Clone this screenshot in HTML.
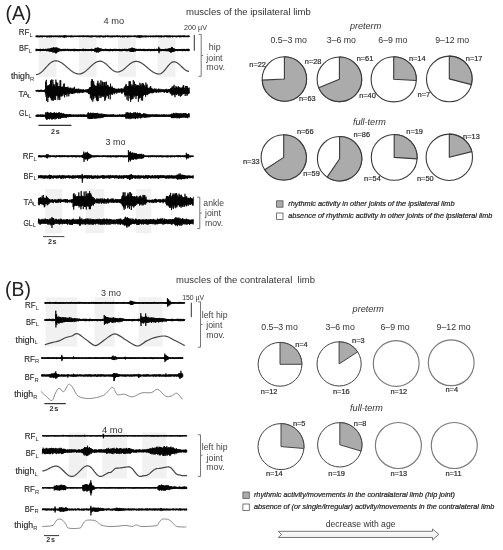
<!DOCTYPE html>
<html><head><meta charset="utf-8"><title>Figure</title>
<style>
html,body{margin:0;padding:0;background:#fff;}
body{width:503px;height:550px;overflow:hidden;}
svg{display:block;filter:blur(0.35px);}
svg text{font-family:'Liberation Sans', Arial, sans-serif;}
</style></head>
<body>
<svg width="503" height="550" viewBox="0 0 503 550">
<rect width="503" height="550" fill="#fff"/>
<text x="5.6" y="19.6" font-size="19.4" fill="#222">(A)</text>
<text x="186" y="15.2" font-size="9.55" fill="#333">muscles of the ipsilateral limb</text>
<rect x="38.7" y="37.5" width="17.6" height="39.3" fill="#f1f1f1"/>
<rect x="79" y="37.5" width="17.5" height="39.3" fill="#f1f1f1"/>
<rect x="118" y="37.5" width="17.8" height="39.3" fill="#f1f1f1"/>
<rect x="157.7" y="37.5" width="17.8" height="39.3" fill="#f1f1f1"/>
<text x="103.5" y="24" font-size="9.3" fill="#333">4 mo</text>
<text x="184" y="30.1" font-size="7.2" fill="#333">200 µV</text>
<line x1="194.3" y1="34.9" x2="194.3" y2="50.8" stroke="#333" stroke-width="1"/>
<path d="M198.6 34.4H201.2V76.3H198.6M201.2 55.5h2" fill="none" stroke="#777" stroke-width="1"/>
<text x="208.8" y="50.4" font-size="8.9" fill="#444">hip</text>
<text x="206.3" y="60.6" font-size="8.9" fill="#444">joint</text>
<text x="206.3" y="70.1" font-size="8.9" fill="#444">mov.</text>
<text x="18.7" y="35.2" font-size="9.3" fill="#2a2a2a" stroke="#2a2a2a" stroke-width="0.15" textLength="10.6" lengthAdjust="spacingAndGlyphs">RF</text>
<text x="29.5" y="36.8" font-size="5.8" fill="#2a2a2a">L</text>
<text x="18.9" y="51" font-size="9.3" fill="#2a2a2a" stroke="#2a2a2a" stroke-width="0.15" textLength="9.6" lengthAdjust="spacingAndGlyphs">BF</text>
<text x="28.7" y="52.6" font-size="5.8" fill="#2a2a2a">L</text>
<text x="10.9" y="78.9" font-size="8.9" fill="#2a2a2a" stroke="#2a2a2a" stroke-width="0.15" textLength="18.9" lengthAdjust="spacingAndGlyphs">thigh</text>
<text x="30" y="80.5" font-size="5.8" fill="#2a2a2a">R</text>
<text x="18.4" y="96.6" font-size="9.3" fill="#2a2a2a" stroke="#2a2a2a" stroke-width="0.15" textLength="10.0" lengthAdjust="spacingAndGlyphs">TA</text>
<text x="27.8" y="98.2" font-size="5.8" fill="#2a2a2a">L</text>
<text x="19.1" y="116.1" font-size="9.3" fill="#2a2a2a" stroke="#2a2a2a" stroke-width="0.15" textLength="9.2" lengthAdjust="spacingAndGlyphs">GL</text>
<text x="28.5" y="117.7" font-size="5.8" fill="#2a2a2a">L</text>
<path d="M35.8 37 36.1 35.5 36.4 37.2 36.7 35.8 37 37.1 37.3 35.7 37.6 37.2 37.9 35.6 38.2 37 38.5 35.8 38.8 37.3 39.1 35.7 39.4 37.2 39.7 35.8 40 37.1 40.3 35.6 40.6 37 40.9 35.5 41.2 37.3 41.5 35.8 41.8 37 42.1 35.7 42.4 37.3 42.7 35.7 43 37 43.3 35.7 43.6 37 43.9 35.8 44.2 37.1 44.5 35.7 44.8 37 45.1 35.8 45.4 37 45.7 35.7 46 37 46.3 35.8 46.6 37.3 46.9 35.7 47.2 37.2 47.5 35.8 47.8 37.3 48.1 35.5 48.4 37 48.7 35.8 49 37.2 49.3 35.6 49.6 37.3 49.9 35.7 50.2 37.3 50.5 35.6 50.8 37 51.1 35.7 51.4 37.3 51.7 35.5 52 37.1 52.3 35.7 52.6 37 52.9 35.8 53.2 37.2 53.5 35.7 53.8 37 54.1 35.7 54.4 37.2 54.7 35.6 55 37 55.3 35.7 55.6 37.1 55.9 35.6 56.2 37.1 56.5 35.7 56.8 37.1 57.1 35.8 57.4 37 57.7 35.6 58 37.3 58.3 35.7 58.6 37.1 58.9 35.8 59.2 37.1 59.5 35.5 59.8 37.2 60.1 35.7 60.4 37.3 60.7 35.8 61 37.1 61.3 35.5 61.6 37.1 61.9 35.7 62.2 37 62.5 35.7 62.8 37.3 63.1 35.8 63.4 37.3 63.7 35.4 64 37.5 64.3 35.3 64.6 37.6 64.9 35.4 65.2 37.4 65.5 35.5 65.8 37.1 66.1 35.3 66.4 37.3 66.7 35.7 67 37.1 67.3 35.7 67.6 37 67.9 35.8 68.2 37.1 68.5 35.7 68.8 37.1 69.1 35.7 69.4 37 69.7 35.8 70 37 70.3 35.7 70.6 37.3 70.9 35.6 71.2 37.2 71.5 35.6 71.8 37 72.1 35.5 72.4 37.2 72.7 35.8 73 37 73.3 35.8 73.6 37.2 73.9 35.8 74.2 37 74.5 35.7 74.8 37 75.1 35.8 75.4 37 75.7 35.7 76 37 76.3 35.8 76.6 37.2 76.9 35.7 77.2 37 77.5 35.7 77.8 37 78.1 35.7 78.4 37.1 78.7 35.8 79 37 79.3 35.5 79.6 37.1 79.9 35.8 80.2 37.1 80.5 35.6 80.8 37 81.1 35.8 81.4 37 81.7 35.6 82 37 82.3 35.6 82.6 37.2 82.9 35.7 83.2 37 83.5 35.5 83.8 37.2 84.1 35.7 84.4 37 84.7 35.6 85 37.1 85.3 35.7 85.6 37 85.9 35.6 86.2 37 86.5 35.8 86.8 37.3 87.1 35.5 87.4 37 87.7 35.5 88 37 88.3 35.5 88.6 37.2 88.9 35.7 89.2 37 89.5 35.8 89.8 37.3 90.1 35.8 90.4 37.2 90.7 35.5 91 37.1 91.3 35.8 91.6 37.3 91.9 35.5 92.2 37.2 92.5 35.7 92.8 37.1 93.1 35.8 93.4 37 93.7 35.6 94 37.1 94.3 35.8 94.6 37 94.9 35.6 95.2 37 95.5 35.7 95.8 37 96.1 35.5 96.4 37.3 96.7 35.8 97 37 97.3 35.8 97.6 37.3 97.9 35.6 98.2 37 98.5 35.8 98.8 37.2 99.1 35.5 99.4 37.3 99.7 35.8 100 37.3 100.3 35.6 100.6 37.1 100.9 35.5 101.2 37 101.5 35.6 101.8 37 102.1 35.8 102.4 37.3 102.7 35.8 103 37.2 103.3 35.7 103.6 37.3 103.9 35.8 104.2 37 104.5 35.8 104.8 37.3 105.1 35.7 105.4 37.3 105.7 35.5 106 37 106.3 35.7 106.6 37 106.9 35.8 107.2 37 107.5 35.5 107.8 37.2 108.1 35.5 108.4 37 108.7 35.7 109 37.2 109.3 35.7 109.6 37.1 109.9 35.8 110.2 37 110.5 35.8 110.8 37.3 111.1 35.7 111.4 37.3 111.7 35.7 112 37 112.3 35.6 112.6 37.3 112.9 35.8 113.2 37.2 113.5 35.8 113.8 37 114.1 35.5 114.4 37 114.7 35.8 115 37.3 115.3 35.7 115.6 37 115.9 35.8 116.2 37 116.5 35.6 116.8 37 117.1 35.5 117.4 37.1 117.7 35.5 118 37.3 118.3 35.8 118.6 37 118.9 35.7 119.2 37 119.5 35.6 119.8 37 120.1 35.8 120.4 37.3 120.7 35.8 121 37.1 121.3 35.7 121.6 37 121.9 35.8 122.2 37.3 122.5 35.5 122.8 37.3 123.1 35.8 123.4 37 123.7 35.7 124 37.3 124.3 35.7 124.6 37.2 124.9 35.6 125.2 37 125.5 35.7 125.8 37 126.1 35.8 126.4 37 126.7 35.8 127 37.3 127.3 35.7 127.6 37.2 127.9 35.6 128.2 37.3 128.5 35.7 128.8 37 129.1 35.8 129.4 37 129.7 35.5 130 37.3 130.3 35.8 130.6 37 130.9 35.7 131.2 37.1 131.5 35.7 131.8 37 132.1 35.8 132.4 37 132.7 35.8 133 37.1 133.3 35.8 133.6 37 133.9 35.6 134.2 37 134.5 35.6 134.8 37.1 135.1 35.5 135.4 37 135.7 35.7 136 37.2 136.3 35.8 136.6 37.3 136.9 35.8 137.2 37.2 137.5 35.4 137.8 37.4 138.1 35.6 138.4 37.2 138.7 35.4 139 37.7 139.3 35.4 139.6 37.8 139.9 35.5 140.2 37.7 140.5 35.6 140.8 37.2 141.1 35.3 141.4 37.3 141.7 35.5 142 37.3 142.3 35.6 142.6 37.2 142.9 35.8 143.2 37.1 143.5 35.8 143.8 37.2 144.1 35.6 144.4 37 144.7 35.8 145 37.3 145.3 35.6 145.6 37.1 145.9 35.7 146.2 37.3 146.5 35.7 146.8 37.1 147.1 35.8 147.4 37 147.7 35.8 148 37.2 148.3 35.7 148.6 37.1 148.9 35.8 149.2 37 149.5 35.8 149.8 37 150.1 35.8 150.4 37.3 150.7 35.7 151 37.1 151.3 35.7 151.6 37 151.9 35.8 152.2 37.1 152.5 35.7 152.8 37.2 153.1 35.7 153.4 37.2 153.7 35.6 154 37 154.3 35.7 154.6 37.1 154.9 35.8 155.2 37.1 155.5 35.7 155.8 37.3 156.1 35.5 156.4 37 156.7 35.6 157 37 157.3 35.8 157.6 37.1 157.9 35.5 158.2 37 158.5 35.6 158.8 37.3 159.1 35.8 159.4 37.2 159.7 35.5 160 37 160.3 35.6 160.6 37.2 160.9 35.7 161.2 37.3 161.5 35.5 161.8 37.3 162.1 35.7 162.4 37 162.7 35.8 163 37 163.3 35.7 163.6 37.2 163.9 35.8 164.2 37.2 164.5 35.6 164.8 37 165.1 35.7 165.4 37 165.7 35.6 166 37 166.3 35.5 166.6 37.2 166.9 35.6 167.2 37 167.5 35.5 167.8 37.3 168.1 35.8 168.4 37.2 168.7 35.5 169 37.2 169.3 35.6 169.6 37.1 169.9 35.5 170.2 37.3 170.5 35.7 170.8 37.2 171.1 35.7 171.4 37 171.7 35.8 172 37 172.3 35.5 172.6 37.3 172.9 35.8 173.2 37.1 173.5 35.7 173.8 37 174.1 35.8 174.4 37 174.7 35.6 175 37 175.3 35.8 175.6 37.1 175.9 35.8 176.2 37.2 176.5 35.7 176.8 37.3 177.1 35.8 177.4 37 177.7 35.7 178 37 178.3 35.7 178.6 37 178.9 35.6 179.2 37.2 179.5 35.6 179.8 37.3 180.1 35.7 180.4 37.1 180.7 35.5 181 37.2 181.3 35.7 181.6 37.1 181.9 35.8 182.2 37 182.5 35.6 182.8 37 183.1 35.6 183.4 37.1 183.7 35.5 184 37.2 184.3 35.5 184.6 37 184.9 35.7 185.2 37.1 185.5 35.8 185.8 37.1 186.1 35.8 186.4 37.1 186.7 35.8 187 37.1 187.3 35.7 187.6 37 187.9 35.7 188.2 37.2 188.5 35.6 188.8 37.1 189.1 35.6 189.4 37" fill="none" stroke="#000" stroke-width="0.8" stroke-linejoin="round"/>
<path d="M35.8 51.2 36.1 48.8 36.4 50.8 36.7 49.2 37 51.1 37.3 48.9 37.6 51 37.9 49.1 38.2 51 38.5 49 38.8 51 39.1 49.2 39.4 50.9 39.7 49.1 40 51.1 40.3 48.8 40.6 51.2 40.9 49 41.2 50.9 41.5 49.1 41.8 50.8 42.1 49.2 42.4 50.9 42.7 49.1 43 50.9 43.3 48.8 43.6 51 43.9 49 44.2 50.9 44.5 49.2 44.8 50.9 45.1 49.2 45.4 51 45.7 48.8 46 51 46.3 49.2 46.6 51.2 46.9 48.9 47.2 51.1 47.5 48.8 47.8 51.1 48.1 48.9 48.4 50.9 48.7 48.6 49 51.5 49.3 48.9 49.6 51.5 49.9 48.5 50.2 51.4 50.5 48.5 50.8 51.6 51.1 48 51.4 51.7 51.7 47.9 52 51.7 52.3 47.7 52.6 52.4 52.9 48 53.2 52.2 53.5 47.3 53.8 52.5 54.1 47.7 54.4 52.1 54.7 47.7 55 52.8 55.3 47.7 55.6 53.3 55.9 47.5 56.2 53.3 56.5 47.7 56.8 53 57.1 47.5 57.4 52.1 57.7 48 58 52 58.3 48.2 58.6 51.4 58.9 48.7 59.2 51.3 59.5 48.6 59.8 51.1 60.1 49.2 60.4 51.1 60.7 48.9 61 51.2 61.3 49.2 61.6 51.1 61.9 49.2 62.2 51 62.5 49.1 62.8 50.9 63.1 48.8 63.4 50.8 63.7 49 64 51.2 64.3 49.1 64.6 50.8 64.9 48.8 65.2 50.9 65.5 48.9 65.8 50.8 66.1 49.1 66.4 50.8 66.7 49 67 50.8 67.3 48.8 67.6 50.8 67.9 48.9 68.2 50.8 68.5 49.1 68.8 51.1 69.1 49.2 69.4 50.8 69.7 48.9 70 50.9 70.3 49.2 70.6 51.2 70.9 49.2 71.2 50.8 71.5 49.1 71.8 51 72.1 48.9 72.4 50.8 72.7 49.1 73 50.8 73.3 49.1 73.6 51.1 73.9 48.9 74.2 51.2 74.5 48.9 74.8 51.2 75.1 48.9 75.4 50.9 75.7 49.1 76 51 76.3 49.1 76.6 50.8 76.9 49.1 77.2 51.2 77.5 49.2 77.8 51 78.1 49.1 78.4 51 78.7 49.2 79 51.2 79.3 49.1 79.6 51 79.9 49.1 80.2 50.8 80.5 49 80.8 50.8 81.1 49.2 81.4 50.8 81.7 49.2 82 50.8 82.3 49 82.6 51 82.9 48.8 83.2 51.2 83.5 48.8 83.8 50.9 84.1 49.1 84.4 50.9 84.7 49 85 51 85.3 48.9 85.6 51.1 85.9 49.1 86.2 50.9 86.5 49 86.8 50.8 87.1 49.2 87.4 50.9 87.7 49.2 88 51.1 88.3 49.1 88.6 50.8 88.9 49.2 89.2 50.9 89.5 49.1 89.8 51 90.1 49.1 90.4 50.9 90.7 49 91 50.8 91.3 48.8 91.6 51.2 91.9 48.9 92.2 50.9 92.5 49 92.8 51 93.1 49.2 93.4 50.9 93.7 49 94 51 94.3 48.9 94.6 51.6 94.9 48.6 95.2 51.6 95.5 47.9 95.8 51.9 96.1 48.3 96.4 52.6 96.7 48 97 51.9 97.3 47.4 97.6 52.1 97.9 47.8 98.2 52.7 98.5 47.7 98.8 51.7 99.1 48.1 99.4 51.7 99.7 48.3 100 51.4 100.3 48.4 100.6 51.2 100.9 48.8 101.2 51.1 101.5 48.7 101.8 50.8 102.1 48.9 102.4 50.8 102.7 49 103 50.9 103.3 49.1 103.6 51.1 103.9 49.1 104.2 50.8 104.5 49.2 104.8 50.8 105.1 48.9 105.4 51 105.7 48.8 106 51.1 106.3 49.2 106.6 51 106.9 48.9 107.2 51.1 107.5 49 107.8 50.9 108.1 49.1 108.4 51.1 108.7 49.1 109 51 109.3 49.1 109.6 51.2 109.9 48.9 110.2 51.2 110.5 48.9 110.8 50.9 111.1 49.1 111.4 51 111.7 49.1 112 50.9 112.3 49 112.6 51.2 112.9 49 113.2 51.1 113.5 49.2 113.8 50.9 114.1 48.8 114.4 50.8 114.7 49.1 115 50.8 115.3 49.2 115.6 51.2 115.9 48.8 116.2 51 116.5 49.2 116.8 50.9 117.1 49.1 117.4 51 117.7 49 118 50.9 118.3 49 118.6 50.8 118.9 49 119.2 51.2 119.5 48.9 119.8 50.8 120.1 49 120.4 51.1 120.7 49.1 121 51.2 121.3 49.1 121.6 51.1 121.9 49.1 122.2 51.2 122.5 48.9 122.8 51 123.1 49.2 123.4 50.9 123.7 49.2 124 51 124.3 48.8 124.6 50.8 124.9 49 125.2 50.9 125.5 49.1 125.8 51.1 126.1 48.8 126.4 51.1 126.7 49.1 127 51.2 127.3 49.1 127.6 51.1 127.9 49 128.2 51.1 128.5 48.8 128.8 50.9 129.1 48.8 129.4 51.1 129.7 48.6 130 51.8 130.3 48.4 130.6 51.3 130.9 48.4 131.2 51.9 131.5 47.8 131.8 52 132.1 47.8 132.4 51.6 132.7 47.8 133 51.9 133.3 48.3 133.6 51.9 133.9 48.2 134.2 51.2 134.5 48.4 134.8 51.5 135.1 48.9 135.4 51.4 135.7 48.8 136 50.9 136.3 48.8 136.6 50.8 136.9 49 137.2 50.9 137.5 49.1 137.8 51 138.1 49.1 138.4 50.8 138.7 48.8 139 50.8 139.3 49.2 139.6 51 139.9 48.9 140.2 51 140.5 48.9 140.8 50.9 141.1 49 141.4 50.9 141.7 49.1 142 51 142.3 49.2 142.6 50.8 142.9 48.9 143.2 50.8 143.5 48.9 143.8 51.1 144.1 49.1 144.4 51 144.7 48.9 145 51.2 145.3 49.2 145.6 50.8 145.9 49.1 146.2 50.9 146.5 49.1 146.8 50.8 147.1 49 147.4 51.2 147.7 49.1 148 51 148.3 49.1 148.6 50.9 148.9 48.8 149.2 50.9 149.5 49 149.8 50.9 150.1 49 150.4 51.2 150.7 49.2 151 51.1 151.3 49.1 151.6 51 151.9 48.9 152.2 51 152.5 49.1 152.8 51.1 153.1 49.2 153.4 51 153.7 49.1 154 51 154.3 48.8 154.6 51.1 154.9 49 155.2 50.9 155.5 49.1 155.8 50.9 156.1 49.1 156.4 50.9 156.7 48.8 157 50.8 157.3 48.9 157.6 50.9 157.9 49.1 158.2 50.9 158.5 49.2 158.8 50.9 158.8 46.8 159 53.2 159.2 48.1 159.3 51.6 159.4 50.9 159.7 49.1 160 51.2 160.3 48.8 160.6 50.9 160.9 49 161.2 51.2 161.5 49.1 161.8 50.8 162.1 49.1 162.4 50.8 162.7 49 163 50.9 163.3 49.1 163.6 51.1 163.9 49.1 164.2 51.1 164.5 49 164.8 50.9 165.1 48.9 165.4 50.9 165.7 48.8 166 51.2 166.3 49 166.6 51.1 166.9 48.8 167.2 51.1 167.5 48.9 167.8 51.2 168.1 48.8 168.4 51.2 168.7 48.5 169 51.2 169.3 48.4 169.6 51.7 169.9 48.4 170.2 51.8 170.5 48.3 170.8 52.7 171.1 47.9 171.4 52.4 171.7 46.9 172 52.1 172.3 47.1 172.6 51.8 172.9 48.3 173.2 51.7 173.5 48.4 173.8 51.9 174.1 48.3 174.4 51.4 174.7 48.9 175 51 175.3 49.1 175.6 51.1 175.9 49.1 176.2 50.9 176.5 49 176.8 50.8 177.1 49.1 177.4 51.2 177.7 49.2 178 50.8 178.3 49.2 178.6 50.9 178.9 49.1 179.2 50.9 179.5 49.1 179.8 50.9 180.1 49.1 180.4 51 180.7 49.1 181 50.9 181.3 48.9 181.6 50.8 181.9 49.2 182.2 51.2 182.5 49.1 182.8 51.1 183.1 49.2 183.4 51 183.7 48.9 184 50.9 184.3 48.9 184.6 51 184.9 49.1 185.2 51.2 185.5 49.1 185.8 50.9 186.1 49 186.4 50.9 186.7 48.9 187 51 187.3 49 187.6 51 187.9 48.8 188.2 51.2 188.5 48.9 188.8 50.9 189.1 49.1 189.4 51" fill="none" stroke="#000" stroke-width="0.8" stroke-linejoin="round"/>
<path d="M36.0 74.6 36.5 74.6 37.0 74.5 37.5 74.4 38.0 74.2 38.5 74.0 39.0 73.8 39.5 73.5 40.0 73.2 40.5 72.9 41.0 72.5 41.5 72.1 42.0 71.6 42.5 71.1 43.0 70.7 43.5 70.1 44.0 69.6 44.5 69.1 45.0 68.5 45.5 68.0 46.0 67.4 46.5 66.9 47.0 66.3 47.5 65.8 48.0 65.3 48.5 64.7 49.0 64.2 49.5 63.8 50.0 63.3 50.5 62.9 51.0 62.5 51.5 62.2 52.0 61.9 52.5 61.6 53.0 61.4 53.5 61.2 54.0 61.0 54.5 60.9 55.0 60.8 55.5 60.8 56.0 60.8 56.5 60.9 57.0 60.9 57.5 61.0 58.0 61.2 58.5 61.3 59.0 61.5 59.5 61.7 60.0 62.0 60.5 62.2 61.0 62.5 61.5 62.8 62.0 63.1 62.5 63.5 63.0 63.8 63.5 64.2 64.0 64.6 64.5 65.0 65.0 65.4 65.5 65.9 66.0 66.3 66.5 66.7 67.0 67.2 67.5 67.6 68.0 68.1 68.5 68.5 69.0 68.9 69.5 69.4 70.0 69.8 70.5 70.2 71.0 70.6 71.5 71.0 72.0 71.3 72.5 71.7 73.0 72.0 73.5 72.3 74.0 72.6 74.5 72.8 75.0 73.1 75.5 73.3 76.0 73.5 76.5 73.6 77.0 73.8 77.5 73.9 78.0 73.9 78.5 74.0 79.0 74.0 79.5 74.0 80.0 73.9 80.5 73.8 81.0 73.7 81.5 73.6 82.0 73.4 82.5 73.1 83.0 72.9 83.5 72.6 84.0 72.3 84.5 72.0 85.0 71.6 85.5 71.2 86.0 70.8 86.5 70.4 87.0 69.9 87.5 69.5 88.0 69.0 88.5 68.6 89.0 68.1 89.5 67.6 90.0 67.1 90.5 66.6 91.0 66.2 91.5 65.7 92.0 65.3 92.5 64.8 93.0 64.4 93.5 64.0 94.0 63.6 94.5 63.2 95.0 62.9 95.5 62.6 96.0 62.3 96.5 62.1 97.0 61.8 97.5 61.6 98.0 61.5 98.5 61.4 99.0 61.3 99.5 61.2 100.0 61.2 100.5 61.2 101.0 61.3 101.5 61.4 102.0 61.5 102.5 61.7 103.0 62.0 103.5 62.2 104.0 62.5 104.5 62.9 105.0 63.2 105.5 63.6 106.0 64.0 106.5 64.5 107.0 64.9 107.5 65.4 108.0 65.9 108.5 66.4 109.0 66.8 109.5 67.3 110.0 67.8 110.5 68.3 111.0 68.7 111.5 69.2 112.0 69.6 112.5 70.0 113.0 70.3 113.5 70.7 114.0 71.0 114.5 71.2 115.0 71.5 115.5 71.7 116.0 71.8 116.5 71.9 117.0 72.0 117.5 72.0 118.0 72.0 118.5 71.9 119.0 71.8 119.5 71.7 120.0 71.5 120.5 71.3 121.0 71.1 121.5 70.8 122.0 70.5 122.5 70.2 123.0 69.9 123.5 69.5 124.0 69.1 124.5 68.7 125.0 68.3 125.5 67.8 126.0 67.4 126.5 66.9 127.0 66.5 127.5 66.0 128.0 65.6 128.5 65.1 129.0 64.7 129.5 64.3 130.0 63.9 130.5 63.5 131.0 63.2 131.5 62.9 132.0 62.6 132.5 62.3 133.0 62.1 133.5 61.9 134.0 61.7 134.5 61.6 135.0 61.5 135.5 61.4 136.0 61.4 136.5 61.4 137.0 61.5 137.5 61.5 138.0 61.6 138.5 61.8 139.0 61.9 139.5 62.1 140.0 62.3 140.5 62.6 141.0 62.8 141.5 63.1 142.0 63.4 142.5 63.7 143.0 64.1 143.5 64.4 144.0 64.8 144.5 65.2 145.0 65.6 145.5 66.0 146.0 66.4 146.5 66.8 147.0 67.3 147.5 67.7 148.0 68.1 148.5 68.6 149.0 69.0 149.5 69.4 150.0 69.8 150.5 70.2 151.0 70.6 151.5 71.0 152.0 71.3 152.5 71.7 153.0 72.0 153.5 72.3 154.0 72.6 154.5 72.8 155.0 73.1 155.5 73.3 156.0 73.5 156.5 73.6 157.0 73.8 157.5 73.9 158.0 73.9 158.5 74.0 159.0 74.0 159.5 74.0 160.0 73.9 160.5 73.7 161.0 73.5 161.5 73.2 162.0 72.8 162.5 72.4 163.0 72.0 163.5 71.5 164.0 71.0 164.5 70.4 165.0 69.8 165.5 69.2 166.0 68.5 166.5 67.9 167.0 67.3 167.5 66.6 168.0 66.0 168.5 65.4 169.0 64.8 169.5 64.3 170.0 63.8 170.5 63.4 171.0 63.0 171.5 62.6 172.0 62.3 172.5 62.1 173.0 61.9 173.5 61.8 174.0 61.8 174.5 61.8 175.0 61.9 175.5 62.0 176.0 62.2 176.5 62.4 177.0 62.7 177.5 63.0 178.0 63.4 178.5 63.8 179.0 64.2 179.5 64.6 180.0 65.1 180.5 65.6 181.0 66.1 181.5 66.5 182.0 67.0 182.5 67.5 183.0 68.0 183.5 68.5 184.0 68.9 184.5 69.3 185.0 69.7 185.5 70.1 186.0 70.4 186.5 70.7 187.0 70.9 187.5 71.1 188.0 71.2 188.5 71.3 189.0 71.3" fill="none" stroke="#444" stroke-width="1.2" stroke-linejoin="round"/>
<path d="M35.8 91.3 36.1 90.1 36.4 91.4 36.7 90 37 91.6 37.3 90.3 37.6 91.3 37.9 89.8 38.2 91.4 38.5 90.3 38.8 92.1 39.1 90.1 39.4 91.8 39.7 90.1 40 91.6 40.3 90.3 40.6 91.6 40.9 89.7 41.2 91.5 41.5 89.9 41.8 91.6 42.1 90.3 42.4 91.7 42.7 90 43 91.4 43.3 90.3 43.6 91.9 43.9 90.1 44.2 91.7 44.5 89.7 44.8 91.7 45.1 89.6 45.4 93.6 45.7 81.7 46 96.7 46.3 79.9 46.6 100.9 46.9 86 47.2 95.6 47.5 85.8 47.8 102.1 48.1 85 48.4 97.9 48.7 85.6 49 97 49.3 85.3 49.6 96.1 49.9 84.1 50.2 97.5 50.5 80.6 50.8 98.3 51.1 80.3 51.4 100.3 51.7 79.4 52 98.2 52.3 86.1 52.6 100.3 52.9 79.9 53.2 100.9 53.5 84.3 53.8 98.5 54.1 86 54.4 99.8 54.7 84.4 55 95.7 55.3 86.3 55.6 100 55.9 79.7 56.2 95.3 56.5 82.3 56.8 96.2 57.1 86.2 57.4 95.7 57.7 82.7 58 100.1 58.3 86.3 58.6 97.4 58.9 86.4 59.2 98.3 59.5 85.9 59.8 100.1 60.1 80.2 60.4 96.4 60.7 80.3 61 95.3 61.3 86.8 61.6 96.5 61.9 87 62.2 94.7 62.5 86.5 62.8 96.1 63.1 87.3 63.4 94.2 63.7 83.9 64 94.3 64.3 83.5 64.6 97.3 64.9 87.4 65.2 94.4 65.5 87.1 65.8 94.9 66.1 87 66.4 94.4 66.7 87 67 96.5 67.3 87.6 67.6 93.7 67.9 86.7 68.2 93.3 68.5 88.3 68.8 96.3 69.1 87.8 69.4 93.9 69.7 88.6 70 93.4 70.3 87.8 70.6 92.9 70.9 87.7 71.2 93.9 71.5 88.8 71.8 93.8 72.1 88.4 72.4 93.9 72.7 88.7 73 93.9 73.3 87.7 73.6 92.6 73.9 89.1 74.2 93.5 74.5 86.9 74.8 92.5 75.1 88.8 75.4 93.1 75.7 89.1 76 92.5 76.3 89.1 76.6 92.5 76.9 88.7 77.2 92.4 77.5 89.2 77.8 93.3 78.1 89.4 78.4 92.7 78.7 88.5 79 92.2 79.3 89.5 79.6 93.2 79.9 89.5 80.2 92 80.5 89.4 80.8 92.7 81.1 89.7 81.4 92 81.7 89.6 82 92.9 82.3 89.6 82.6 92.8 82.9 89.8 83.2 91.9 83.5 89.4 83.8 92.7 84.1 89.7 84.4 91.7 84.7 90 85 91.9 85.3 90 85.6 92.2 85.9 89.3 86.2 91.6 86.5 89.9 86.8 92.5 87.1 89.3 87.4 92.8 87.7 89.5 88 92 88.3 89.2 88.6 94.1 88.9 88.6 89.2 93.4 89.5 87.7 89.8 94.2 90.1 87.1 90.4 98.3 90.7 87.1 91 94.7 91.3 81.2 91.6 100.2 91.9 79.2 92.2 96.7 92.5 79.6 92.8 101.6 93.1 85.8 93.4 99.2 93.7 81.3 94 98.3 94.3 84.5 94.6 95.9 94.9 85.5 95.2 95.8 95.5 86.1 95.8 97.6 96.1 85.7 96.4 99.8 96.7 86.1 97 101 97.3 83.1 97.6 101.3 97.9 80.7 98.2 100.9 98.5 84.2 98.8 95.4 99.1 82.7 99.4 95.5 99.7 85.8 100 98.1 100.3 84.6 100.6 96.3 100.9 80.3 101.2 97.6 101.5 85.7 101.8 95.6 102.1 81.4 102.4 96.6 102.7 82.4 103 95.9 103.3 86.1 103.6 96.9 103.9 82.1 104.2 95.4 104.5 82.4 104.8 100.9 105.1 82.2 105.4 99.5 105.7 86.3 106 97.5 106.3 81.6 106.6 95.2 106.9 86 107.2 95.5 107.5 84.9 107.8 96.1 108.1 85.3 108.4 98.6 108.7 86.7 109 94.8 109.3 86.8 109.6 94.6 109.9 87.1 110.2 99.4 110.5 83.7 110.8 94.2 111.1 86.6 111.4 94.3 111.7 87.5 112 94.1 112.3 86.5 112.6 94.7 112.9 87.9 113.2 93.3 113.5 88.2 113.8 93.1 114.1 87.9 114.4 94.2 114.7 88.6 115 92.6 115.3 89.1 115.6 92.6 115.9 88.7 116.2 93.4 116.5 89.2 116.8 93.4 117.1 88.8 117.4 92.4 117.7 89.3 118 92.5 118.3 88.6 118.6 92.4 118.9 88.7 119.2 92.4 119.5 89.4 119.8 92.5 120.1 88.7 120.4 92.1 120.7 89.3 121 92.3 121.3 88.2 121.6 93.6 121.9 89.4 122.2 93.4 122.5 88.6 122.8 92 123.1 89.4 123.4 92 123.7 88.6 124 92.6 124.3 87.2 124.6 95 124.9 86.4 125.2 96.6 125.5 85.4 125.8 95.3 126.1 83.9 126.4 95.6 126.7 85.9 127 99.6 127.3 86 127.6 95.6 127.9 86 128.2 100.9 128.5 85.9 128.8 95.5 129.1 81.3 129.4 95.6 129.7 81.3 130 98.4 130.3 81.4 130.6 101.8 130.9 84.1 131.2 99.7 131.5 86.1 131.8 99.3 132.1 84.7 132.4 98.7 132.7 86.1 133 99 133.3 80.2 133.6 95.4 133.9 85.7 134.2 97.3 134.5 81.7 134.8 95.7 135.1 86.1 135.4 95.7 135.7 84 136 98.9 136.3 85.4 136.6 96 136.9 85.4 137.2 95.9 137.5 85.4 137.8 95.3 138.1 84.9 138.4 101.7 138.7 85.4 139 98.7 139.3 86.2 139.6 98.2 139.9 82.8 140.2 98 140.5 84.9 140.8 96.5 141.1 83.9 141.4 100.4 141.7 86.3 142 95.3 142.3 83 142.6 100.6 142.9 84.9 143.2 96.1 143.5 83.6 143.8 95.1 144.1 86.5 144.4 94.9 144.7 85.2 145 95 145.3 86.9 145.6 96.7 145.9 82.6 146.2 94.5 146.5 85.3 146.8 94.6 147.1 84.4 147.4 95.1 147.7 87.7 148 93.8 148.3 88.1 148.6 94.2 148.9 87.8 149.2 93.3 149.5 88.1 149.8 93.3 150.1 86.8 150.4 92.9 150.7 86.1 151 93.1 151.3 88.3 151.6 92.8 151.9 87.9 152.2 93.4 152.5 89.1 152.8 92.2 153.1 89.1 153.4 92.8 153.7 89.6 154 92.5 154.3 88.4 154.6 92.1 154.9 89.8 155.2 91.8 155.5 89.1 155.8 92.4 156.1 88.5 156.4 92.8 156.7 89.8 157 91.8 157.3 89.8 157.6 91.8 157.9 89.2 158.2 92.8 158.5 88.7 158.8 91.8 159.1 88.8 159.4 91.9 159.7 89.6 160 92.5 160.3 89.8 160.6 91.8 160.9 88.9 161.2 91.8 161.5 89.7 161.8 92.2 162.1 89.3 162.4 91.8 162.7 89.7 163 92 163.3 89.6 163.6 91.8 163.9 89.4 164.2 93 164.5 89.7 164.8 92.1 165.1 89.8 165.4 91.8 165.7 89.3 166 91.7 166.3 88.8 166.6 92.9 166.9 89.9 167.2 93 167.5 89.7 167.8 92.5 168.1 89.1 168.4 91.8 168.7 89.3 169 92.2 169.3 89 169.6 91.8 169.9 89.2 170.2 93.6 170.5 88.3 170.8 93.4 171.1 88.5 171.4 94.3 171.7 87.6 172 95.6 172.3 86.3 172.6 94.7 172.9 87.9 173.2 95.1 173.5 86.5 173.8 93.7 174.1 84.8 174.4 95.2 174.7 88 175 97.2 175.3 88 175.6 93.9 175.9 86 176.2 94.9 176.5 86.9 176.8 95.1 177.1 87.3 177.4 93.9 177.7 87.9 178 93.6 178.3 86.1 178.6 95.8 178.9 87 179.2 95.7 179.5 87.6 179.8 93.8 180.1 87.5 180.4 96.7 180.7 88 181 94.5 181.3 87.8 181.6 95.9 181.9 87.6 182.2 93.9 182.5 87.5 182.8 94.6 183.1 85.7 183.4 94 183.7 85.1 184 93.6 184.3 87.8 184.6 93.6 184.9 88 185.2 96 185.5 86 185.8 93.7 186.1 87.9 186.4 94.1 186.7 86.1 187 95.9 187.3 86.2 187.6 94.5 187.9 88.3 188.2 93.7 188.5 88.3 188.8 93.9 189.1 87.6 189.4 93.1" fill="none" stroke="#000" stroke-width="0.8" stroke-linejoin="round"/>
<path d="M35.8 116.6 36.1 114.9 36.4 116.6 36.7 114.9 37 116.5 37.3 114.8 37.6 116.9 37.9 114.5 38.2 116.8 38.5 114.8 38.8 116.7 39.1 114.8 39.4 116.5 39.7 114.9 40 116.5 40.3 114.5 40.6 116.9 40.9 114.5 41.2 116.9 41.5 114.9 41.8 116.6 42.1 114.7 42.4 116.8 42.7 114.5 43 116.9 43.3 114.9 43.6 116.7 43.9 114.6 44.2 116.7 44.5 114.9 44.8 116.7 45.1 114.9 45.4 117.7 45.7 112.3 46 118.9 46.3 112.9 46.6 119.7 46.9 112.5 47.2 119.6 47.5 111.9 47.8 118.8 48.1 112.7 48.4 119 48.7 112.7 49 118.3 49.3 112.9 49.6 119.4 49.9 113.1 50.2 118.3 50.5 112.4 50.8 118.4 51.1 112.6 51.4 118.7 51.7 112.9 52 119.8 52.3 113.1 52.6 118.6 52.9 113.1 53.2 118.9 53.5 113 53.8 118.5 54.1 112.3 54.4 118.4 54.7 112.6 55 119.5 55.3 113.2 55.6 118.2 55.9 113.1 56.2 119 56.5 112.7 56.8 118.2 57.1 113.2 57.4 118.1 57.7 113.1 58 117.9 58.3 112.8 58.6 119 58.9 112.4 59.2 118.6 59.5 112.5 59.8 117.7 60.1 113.5 60.4 118.8 60.7 113 61 117.9 61.3 112.8 61.6 118.1 61.9 113.1 62.2 117.6 62.5 113.9 62.8 117.7 63.1 114 63.4 117.6 63.7 113.1 64 117.5 64.3 114.1 64.6 117.3 64.9 114.1 65.2 117.8 65.5 114.1 65.8 117.3 66.1 114.3 66.4 117.9 66.7 114.1 67 117.1 67.3 114.4 67.6 117 67.9 114.4 68.2 117.3 68.5 114.5 68.8 116.8 69.1 114.4 69.4 116.8 69.7 114 70 116.7 70.3 114.5 70.6 117 70.9 114.6 71.2 117 71.5 114.7 71.8 116.6 72.1 114.8 72.4 116.5 72.7 114.8 73 116.6 73.3 114.5 73.6 116.9 73.9 114.7 74.2 116.5 74.5 114.8 74.8 116.6 75.1 114.9 75.4 116.6 75.7 114.5 76 116.5 76.3 114.9 76.6 116.9 76.9 114.7 77.2 117 77.5 114.8 77.8 116.9 78.1 114.6 78.4 116.8 78.7 114.6 79 116.7 79.3 114.9 79.6 116.5 79.9 114.5 80.2 116.9 80.5 114.5 80.8 116.6 81.1 114.6 81.4 116.9 81.7 114.7 82 116.9 82.3 114.7 82.6 116.8 82.9 114.6 83.2 116.6 83.5 114.5 83.8 117 84.1 114.9 84.4 117 84.7 114.4 85 116.8 85.3 114.9 85.6 116.9 85.9 114.9 86.2 117 86.5 114.6 86.8 116.5 87.1 114.9 87.4 117.2 87.7 113.3 88 118.8 88.3 112.3 88.6 118 88.9 113.5 89.2 119.1 89.5 113.5 89.8 119 90.1 113.5 90.4 118.9 90.7 112.6 91 119 91.3 113 91.6 119 91.9 113.4 92.2 118.6 92.5 113.3 92.8 119 93.1 112.7 93.4 118.2 93.7 113.1 94 117.8 94.3 113.6 94.6 118.4 94.9 113.2 95.2 118.9 95.5 113 95.8 117.8 96.1 113.4 96.4 118.5 96.7 113.3 97 117.7 97.3 112.9 97.6 118.4 97.9 113.8 98.2 117.9 98.5 113.7 98.8 118.2 99.1 113.8 99.4 117.5 99.7 113.7 100 118.3 100.3 114.1 100.6 117.3 100.9 113.7 101.2 118 101.5 113.9 101.8 117.4 102.1 113.6 102.4 117.6 102.7 114.3 103 117.7 103.3 114.4 103.6 117.1 103.9 113.9 104.2 117.1 104.5 114.1 104.8 116.9 105.1 114.1 105.4 116.8 105.7 114.6 106 116.9 106.3 114.6 106.6 116.8 106.9 114.3 107.2 116.9 107.5 114.9 107.8 116.6 108.1 114.7 108.4 116.7 108.7 114.6 109 116.7 109.3 114.9 109.6 116.6 109.9 114.5 110.2 116.6 110.5 114.6 110.8 117 111.1 114.7 111.4 116.8 111.7 114.7 112 116.6 112.3 114.5 112.6 116.7 112.9 114.5 113.2 116.6 113.5 114.5 113.8 116.8 114.1 114.7 114.4 116.6 114.7 114.9 115 116.8 115.3 114.8 115.6 116.8 115.9 114.9 116.2 116.5 116.5 114.9 116.8 116.9 117.1 114.9 117.4 116.9 117.7 114.8 118 116.7 118.3 114.8 118.6 116.7 118.9 114.9 119.2 116.6 119.5 114.4 119.8 116.5 120.1 114.6 120.4 116.6 120.7 114.8 121 116.5 121.3 114.9 121.6 117 121.9 114.5 122.2 116.9 122.5 114.5 122.8 117 123.1 114.9 123.4 116.7 123.7 114.7 124 116.7 124.3 114.4 124.6 116.8 124.9 114.4 125.2 116.5 125.5 113.9 125.8 118.5 126.1 112.6 126.4 118.6 126.7 112.5 127 118.1 127.3 112.3 127.6 118.2 127.9 112.9 128.2 119 128.5 112.7 128.8 118.1 129.1 113.4 129.4 118.1 129.7 112.9 130 119.2 130.3 112.4 130.6 118.2 130.9 113.2 131.2 118.8 131.5 113.4 131.8 118.2 132.1 113.5 132.4 117.9 132.7 113.1 133 118.6 133.3 112.9 133.6 118.1 133.9 112.3 134.2 118.5 134.5 113.5 134.8 117.9 135.1 112.3 135.4 119.1 135.7 112.4 136 118.4 136.3 113.4 136.6 117.8 136.9 113.5 137.2 117.8 137.5 112.6 137.8 118.7 138.1 113 138.4 117.7 138.7 113.7 139 117.7 139.3 112.8 139.6 117.6 139.9 113.1 140.2 118.1 140.5 113.5 140.8 118.4 141.1 113.9 141.4 117.7 141.7 114 142 117.4 142.3 114.1 142.6 117.4 142.9 114.1 143.2 117.2 143.5 113.3 143.8 117.3 144.1 113.5 144.4 117.6 144.7 113.8 145 117.5 145.3 113.6 145.6 117.7 145.9 113.9 146.2 117.3 146.5 114 146.8 117.4 147.1 114.2 147.4 117.1 147.7 114.5 148 117.4 148.3 114.4 148.6 116.8 148.9 114.6 149.2 117.3 149.5 114.6 149.8 116.8 150.1 114.4 150.4 117.1 150.7 114.7 151 116.7 151.3 114.7 151.6 116.6 151.9 114.5 152.2 116.5 152.5 114.4 152.8 116.5 153.1 114.9 153.4 116.9 153.7 114.5 154 116.6 154.3 114.7 154.6 116.7 154.9 114.6 155.2 116.5 155.5 114.5 155.8 117 156.1 114.6 156.4 116.9 156.7 114.4 157 116.6 157.3 114.5 157.6 116.9 157.9 114.7 158.2 116.5 158.5 114.7 158.8 116.9 159.1 114.8 159.4 116.8 159.7 114.5 160 116.7 160.3 114.9 160.6 116.7 160.9 114.8 161.2 116.9 161.5 114.6 161.8 116.6 162.1 114.5 162.4 116.7 162.7 114.8 163 116.9 163.3 114.5 163.6 116.9 163.9 114.5 164.2 116.8 164.5 114.6 164.8 116.7 165.1 114.7 165.4 117 165.7 114.8 166 116.5 166.3 114.6 166.6 116.7 166.9 114.7 167.2 116.7 167.5 114.8 167.8 116.5 168.1 114.9 168.4 116.8 168.7 114.5 169 116.8 169.3 114.9 169.6 117 169.9 114.5 170.2 116.7 170.5 114.9 170.8 116.9 171.1 113.9 171.4 118 171.7 113.8 172 118.2 172.3 113.8 172.6 117.9 172.9 113.8 173.2 117.8 173.5 112.9 173.8 118.2 174.1 113.1 174.4 117.7 174.7 113.6 175 118 175.3 113.9 175.6 117.8 175.9 112.8 176.2 118.2 176.5 113 176.8 117.6 177.1 113.3 177.4 118.2 177.7 113.3 178 117.8 178.3 113.9 178.6 117.5 178.9 113.1 179.2 118.4 179.5 113.8 179.8 118.1 180.1 113.7 180.4 117.9 180.7 113.2 181 117.6 181.3 113.5 181.6 117.5 181.9 113.7 182.2 117.4 182.5 113.9 182.8 117.5 183.1 113.2 183.4 117.4 183.7 113.4 184 117.3 184.3 113.1 184.6 117.4 184.9 114.1 185.2 117.4 185.5 113.2 185.8 117.8 186.1 113.3 186.4 117.6 186.7 114.1 187 117.4 187.3 113.9 187.6 118.2 187.9 114.1 188.2 117.3 188.5 113.5 188.8 117.2 189.1 113.3 189.4 117.3" fill="none" stroke="#000" stroke-width="0.8" stroke-linejoin="round"/>
<line x1="38.4" y1="125.3" x2="71.4" y2="125.3" stroke="#333" stroke-width="1.3"/>
<text x="51.1" y="133.6" font-size="7.2" fill="#333" font-weight="bold" letter-spacing="0.7">2s</text>
<rect x="45.2" y="189" width="17" height="44.3" fill="#f1f1f1"/>
<rect x="85.8" y="189" width="18.4" height="44.3" fill="#f1f1f1"/>
<rect x="136.1" y="189" width="15.2" height="44.3" fill="#f1f1f1"/>
<text x="105.4" y="144.9" font-size="9.0" fill="#333">3 mo</text>
<text x="22.7" y="159.1" font-size="9.3" fill="#2a2a2a" stroke="#2a2a2a" stroke-width="0.15" textLength="10.6" lengthAdjust="spacingAndGlyphs">RF</text>
<text x="33.5" y="160.7" font-size="5.8" fill="#2a2a2a">L</text>
<text x="23.6" y="178.7" font-size="9.3" fill="#2a2a2a" stroke="#2a2a2a" stroke-width="0.15" textLength="9.6" lengthAdjust="spacingAndGlyphs">BF</text>
<text x="33.4" y="180.3" font-size="5.8" fill="#2a2a2a">L</text>
<text x="23.6" y="204.5" font-size="9.3" fill="#2a2a2a" stroke="#2a2a2a" stroke-width="0.15" textLength="10.0" lengthAdjust="spacingAndGlyphs">TA</text>
<text x="33" y="206.1" font-size="5.8" fill="#2a2a2a">L</text>
<text x="23.4" y="225.5" font-size="9.3" fill="#2a2a2a" stroke="#2a2a2a" stroke-width="0.15" textLength="9.2" lengthAdjust="spacingAndGlyphs">GL</text>
<text x="32.8" y="227.1" font-size="5.8" fill="#2a2a2a">L</text>
<path d="M38.3 157.1 38.6 155.4 38.9 157.2 39.2 155.3 39.5 157.2 39.8 155.3 40.1 156.9 40.4 155.5 40.7 157.3 41 155.5 41.3 157.3 41.6 155.7 41.9 157.1 42.2 155.6 42.5 157.1 42.8 155.5 43.1 156.9 43.4 155.6 43.7 157 44 155.3 44.3 157.2 44.6 155.6 44.9 157.2 45.2 155.7 45.5 157.1 45.8 155.4 46.1 157.6 46.4 154.2 46.7 157.7 47 154.9 47.3 158.4 47.6 154.4 47.9 157.6 48.2 154.4 48.5 157.1 48.8 155.4 49.1 157 49.4 155.3 49.7 157.2 50 155.3 50.3 157.3 50.6 155.6 50.9 157 51.2 155.6 51.5 156.9 51.8 155.7 52.1 157 52.4 155.5 52.7 156.9 53 155.4 53.3 157 53.6 155.6 53.9 157.2 54.2 155.5 54.5 157 54.8 155.5 55.1 157.2 55.4 155.7 55.7 157.3 56 155.7 56.3 157.2 56.6 155.3 56.9 156.9 57.2 155.4 57.5 157 57.8 155.5 58.1 156.9 58.4 155.7 58.7 157 59 155.3 59.3 157 59.6 155.4 59.9 157.3 60.2 155.3 60.5 157 60.8 155.6 61.1 157.1 61.4 155.4 61.7 156.9 62 155.4 62.3 157.2 62.6 155.3 62.9 156.9 63.2 155.3 63.5 156.9 63.8 155.6 64.1 157.1 64.4 155.3 64.7 157 65 155.3 65.3 157.1 65.6 155.6 65.9 157 66.2 155.6 66.5 156.9 66.8 155.7 67.1 157.2 67.4 155.3 67.7 157 68 155.7 68.3 157.3 68.6 155.5 68.9 157 69.2 155.6 69.5 157.1 69.8 155.4 70.1 157 70.4 155.6 70.7 156.9 71 155.3 71.3 156.9 71.6 155.5 71.9 157.2 72.2 155.7 72.5 157.2 72.8 155.3 73.1 157.1 73.4 155.4 73.7 156.9 74 155.6 74.3 157 74.6 155.3 74.9 157 75.2 155.6 75.5 157.3 75.8 155.3 76.1 157.3 76.4 155.6 76.7 157.1 77 155.4 77.3 157.1 77.6 155.6 77.9 157 78.2 155.7 78.5 157 78.8 155.3 79.1 157.3 79.4 155.5 79.7 157.1 80 155.6 80.3 156.9 80.6 155.6 80.9 157.2 81.2 155.3 81.5 157 81.8 155.3 82.1 157.5 82.4 155 82.7 157.8 83 154.5 83.3 157.9 83.6 154.2 83.8 151.6 84 161.9 84.2 153.5 84.3 159.1 84.2 154.1 84.5 159.1 84.8 153.4 85.1 158.7 85.4 152.5 85.7 159.6 86 152.9 86.3 159.1 86.6 152.7 86.9 159.2 87.2 152.8 87.3 151.8 87.5 160.8 87.7 153.6 87.8 158.6 87.8 152.8 88.1 159.3 88.4 153.2 88.7 158.5 89 153.8 89.3 158.7 89.6 153.9 89.9 158 90.2 154.3 90.5 158.2 90.8 154.8 91.1 157.9 91.4 154.9 91.7 157.2 92 155.5 92.3 157 92.6 155.4 92.9 157.3 93.2 155.5 93.5 157.2 93.8 155.4 94.1 157.2 94.4 155.6 94.7 157.2 95 155.5 95.3 157.1 95.6 155.6 95.9 157.1 96.2 155.4 96.5 157.1 96.8 155.4 97.1 156.9 97.4 155.6 97.7 157 98 155.5 98.3 157 98.6 155.4 98.9 157.1 99.2 155.7 99.5 157.1 99.8 155.6 100.1 156.9 100.4 155.7 100.7 157 101 155.6 101.3 157 101.6 155.7 101.9 157.1 102.2 155.6 102.5 157.1 102.8 155.5 103.1 157 103.4 155.3 103.7 156.9 104 155.6 104.3 157 104.6 155.6 104.9 156.9 105.2 155.4 105.5 157 105.8 155.7 106.1 157.1 106.4 155.7 106.7 157.1 107 155.6 107.3 157.1 107.6 155.3 107.9 157.2 108.2 155.6 108.5 157.2 108.8 155.5 109.1 157 109.4 155.7 109.7 157.1 110 155.5 110.3 157.3 110.6 155.3 110.9 157.1 111.2 155.6 111.5 157.3 111.8 155.7 112.1 156.9 112.4 155.5 112.7 157.1 113 155.7 113.3 157.1 113.6 155.3 113.9 157 114.2 155.6 114.5 157 114.8 155.6 115.1 157.3 115.4 155.6 115.7 157.3 116 155.3 116.3 157.1 116.6 155.6 116.9 157.3 117.2 155.5 117.5 157 117.8 155.6 118.1 157.3 118.4 155.5 118.7 157 119 155.5 119.3 156.9 119.6 155.5 119.9 157 120.2 155.6 120.5 157.2 120.8 155.4 121.1 156.9 121.4 155.5 121.7 157 122 155.3 122.3 157.2 122.6 155.6 122.9 157 123.2 155.6 123.5 157.3 123.8 155.6 124.1 157.1 124.4 155.5 124.7 157.1 125 155.5 125.3 157.2 125.6 155.7 125.9 157.2 126.2 155.6 126.5 157.1 126.8 155.6 127.1 157 127.4 155.5 127.7 157.1 128 155.6 128.3 157.2 128.4 150 128.6 162.1 128.8 152.5 128.9 159.2 128.9 158.4 129.2 153.4 129.5 159.6 129.8 152 130.1 160.5 130.3 151.3 130.5 161.3 130.7 153.3 130.8 158.8 130.7 159 131 152.5 131.3 159.4 131.6 153 131.9 159.9 132.2 152.9 132.5 159.3 132.8 152.4 133.1 159.1 133.4 153.5 133.7 159.9 134 153.8 134.3 158.8 134.6 152.9 134.9 158.6 135.2 153 135.5 159.3 135.8 153.8 136.1 158.6 136.4 153.3 136.7 159.5 137 154.2 137.3 158.7 137.6 153.9 137.9 158.6 138.2 154.2 138.5 158.2 138.8 154 139.1 158.9 139.4 154.5 139.7 158.1 140 153.8 140.3 158.7 140.6 154.1 140.9 157.9 141.2 154.1 141.5 158.8 141.8 153.8 142.1 158.3 142.4 154.9 142.7 158.4 143 154.9 143.3 158.1 143.6 154.2 143.9 157.3 144.2 155.7 144.5 157 144.8 155.3 145.1 157 145.4 155.5 145.7 157 146 155.6 146.3 157.1 146.6 155.7 146.9 156.9 147.2 155.6 147.5 156.9 147.8 155.7 148.1 157.1 148.4 155.4 148.7 157.3 149 155.7 149.3 157 149.6 155.6 149.9 157.1 150.2 155.5 150.5 157.3 150.8 155.6 151.1 156.9 151.4 155.4 151.7 157 152 155.5 152.3 157.1 152.6 155.3 152.9 157.1 153.2 155.5 153.5 157 153.8 155.5 154.1 157 154.4 155.4 154.7 157.1 155 155.7 155.3 157 155.6 155.6 155.9 157.2 156.2 155.6 156.5 157.2 156.8 155.5 157.1 156.9 157.4 155.4 157.7 156.9 158 155.7 158.3 157.1 158.6 155.6 158.9 157.3 159.2 155.5 159.5 157 159.8 155.4 160.1 156.9 160.4 155.4 160.7 156.9 161 155.6 161.3 157.3 161.6 155.4 161.9 157 162.2 155.7 162.5 157.3 162.8 155.5 163.1 157.2 163.4 155.7 163.7 157.1 164 155.6 164.3 157 164.6 155.6 164.9 157.1 165.2 155.6 165.5 157 165.8 155.7 166.1 157.2 166.4 155.5 166.7 157.2 167 155.6 167.3 157.3 167.6 155.5 167.9 157.1 168.2 155.5 168.5 157.2 168.8 155.6 169.1 156.9 169.4 155.7 169.7 157 170 155.7 170.3 157.3 170.6 155.5 170.9 157.2 171.2 155.7 171.5 157.1 171.8 155.3 172.1 157.1 172.4 155.6 172.7 157.1 173 155.7 173.3 157 173.6 155.6 173.9 157 174.2 155.6 174.5 157.3 174.8 155.6 175.1 157 175.4 155.6 175.7 157 176 155.6 176.3 157 176.6 155.5 176.9 156.9 177.2 155.3 177.5 157 177.8 155.3 178.1 157.2 178.4 155.4 178.7 157.1 179 155.3 179.3 156.9 179.6 155.4 179.9 157 180.2 155.4 180.5 157.2 180.8 155.6 181.1 157 181.4 155.7 181.7 157 182 155.7 182.3 157 182.6 155.3 182.9 157 183.2 155.6 183.5 157.1 183.8 155.6 184.1 157.2 184.4 155.4 184.7 157 185 155.6 185.3 157.2 185.6 155.3 185.9 157.3 186.2 155.2 186.3 152.8 186.5 159.3 186.7 154.2 186.8 157.8 186.8 155 187.1 157.7 187.4 154 187.7 158.3 188 154.4 188.3 158.3 188.6 154.2 188.9 157.5 189.2 155.6 189.5 156.9 189.8 155.7 190.1 157.3 190.4 155.5 190.7 157.3 191 155.7 191.3 157 191.6 155.7 191.9 157 192.2 155.7 192.5 157 192.8 155.6 193.1 157 193.4 155.7" fill="none" stroke="#000" stroke-width="0.8" stroke-linejoin="round"/>
<path d="M38.3 178.4 38.6 175.3 38.9 178.1 39.2 175.8 39.5 177.9 39.8 175.5 40.1 178.1 40.4 175.4 40.7 178.1 41 175.4 41.3 178 41.6 175.3 41.9 178.4 42.2 175.7 42.5 178.2 42.8 175.5 43.1 177.9 43.4 175.6 43.7 178.5 44 175.8 44.3 178.5 44.6 175.5 44.9 178.5 45.2 175.8 45.5 177.9 45.8 175.3 46.1 178.5 46.4 175.7 46.7 177.9 47 175.8 47.3 178.3 47.6 175.8 47.9 178.6 48.2 175.6 48.5 178 48.8 175.4 49.1 178.2 49.4 174.7 49.7 179.2 50 175 50.3 178.8 50.6 175.1 50.9 178.7 51.2 175 51.5 177.9 51.8 175.8 52.1 178.2 52.4 175.8 52.7 178.2 53 175.9 53.3 178.6 53.6 175.6 53.9 177.9 54.2 175.5 54.5 178 54.8 175.9 55.1 178.1 55.4 175.9 55.7 178 56 175.3 56.3 178.3 56.6 175.9 56.9 178.4 57.2 175.9 57.5 178 57.8 175.2 58.1 178.3 58.4 175.8 58.7 178.1 59 175.7 59.3 177.9 59.6 175.1 59.9 177.9 60.2 175.7 60.5 178.4 60.8 175.7 61.1 178.7 61.4 175.8 61.7 178.7 62 175.2 62.3 178.3 62.6 175.2 62.9 178.1 63.2 175.3 63.5 178.5 63.8 175.6 64.1 178.1 64.4 175.4 64.7 178.1 65 175.9 65.3 178.4 65.6 175.8 65.9 178.1 66.2 175.4 66.5 177.9 66.8 175.9 67.1 177.9 67.4 175.6 67.7 178 68 175.8 68.3 178.1 68.6 175.2 68.9 178 69.2 175.7 69.5 178.5 69.8 175.5 70.1 178 70.4 175.7 70.7 178.1 71 175.9 71.3 178.1 71.6 175.8 71.9 178.5 72.2 175.8 72.5 178.3 72.8 175.1 73.1 178.6 73.4 175.7 73.7 178.3 74 175.8 74.3 178.1 74.6 175.7 74.9 178.4 75.2 175.2 75.5 178 75.8 175.9 76.1 178.1 76.4 175.9 76.7 177.9 77 175.4 77.3 177.9 77.6 175.4 77.9 178 78.2 175.2 78.5 178.5 78.8 175.9 79.1 177.9 79.4 175.2 79.7 178.3 80 175.7 80.3 178.4 80.6 175.3 80.9 178.2 81.2 175.7 81.5 178.1 81.8 175.3 82.1 178.6 82.1 173.9 82.3 182.7 82.5 175.1 82.6 179.8 82.7 178.9 83 175.7 83.3 178.3 83.6 175.9 83.9 177.9 84.2 175.5 84.5 178.1 84.8 175.2 85.1 178.3 85.4 175.5 85.7 177.9 86 175.3 86.3 177.9 86.6 175.5 86.9 178.6 87.2 175.2 87.5 178.6 87.8 175.7 88.1 178.3 88.4 175.4 88.7 177.9 89 175.2 89.3 178.6 89.6 175.7 89.9 178.4 90.2 175.7 90.5 178 90.8 175.4 91.1 177.9 91.4 175.3 91.7 178.7 92 175.8 92.3 178.6 92.6 175.9 92.9 178.5 93.2 175.8 93.5 178.7 93.8 175.7 94.1 178.6 94.4 175.9 94.7 177.9 95 175.3 95.3 178.3 95.6 175.6 95.9 177.9 96.2 175.9 96.5 178.1 96.8 175.9 97.1 178.7 97.4 175.4 97.7 178.6 98 175.5 98.3 178 98.6 175.9 98.9 178.4 99.2 175.9 99.5 178.2 99.8 175.7 100.1 178.2 100.4 175.9 100.7 177.9 101 175.6 101.3 177.9 101.6 175.6 101.9 178.1 102.2 175.5 102.5 178.3 102.8 175 103.1 178.7 103.4 175.4 103.7 178.3 104 175.4 104.3 178.7 104.6 175.7 104.9 177.9 105.2 175.8 105.5 178 105.8 175.6 106.1 178.4 106.4 175.6 106.7 177.9 107 175.8 107.3 178.1 107.6 175.7 107.9 178.1 108.2 175.1 108.5 178.2 108.8 175.5 109.1 178.4 109.4 175.5 109.7 178.5 110 175.7 110.3 178.3 110.6 175.1 110.9 177.9 111.2 175.5 111.5 178.1 111.8 175.9 112.1 177.9 112.4 175.4 112.7 177.9 113 175.4 113.3 177.9 113.6 175.7 113.9 177.9 114.2 175.6 114.5 178.4 114.8 175.8 115.1 178.2 115.4 175.2 115.7 178 116 175.7 116.3 178.4 116.6 175.3 116.9 177.9 117.2 175.5 117.5 177.9 117.8 175.9 118.1 178.7 118.4 175.9 118.7 178.6 119 175.4 119.3 178.3 119.6 175.4 119.9 178.3 120.2 175.8 120.5 178.1 120.8 175.8 121.1 178.5 121.4 175.4 121.7 178.4 122 175.8 122.3 178.2 122.6 175.8 122.9 178.4 123.2 175.4 123.5 178.7 123.8 175.4 124.1 178.3 124.4 175.4 124.7 177.9 125 175.6 125.3 177.9 125.6 175.7 125.9 177.9 126.2 175.2 126.5 177.9 126.8 175.2 127.1 178.6 127.4 175.6 127.7 178.8 128 175.6 128.3 178.4 128.6 175.4 128.9 178.6 129.2 175.1 129.5 180 129.8 174.8 130.1 179.8 130.4 174.7 130.7 178.9 131 174.7 131.3 178.7 131.6 174.1 131.9 178.6 132.2 175.1 132.5 178.6 132.8 175.3 133.1 178.2 133.4 175.8 133.7 177.9 134 175.2 134.3 177.9 134.6 175.7 134.9 178.5 135.2 175.6 135.5 178.6 135.8 175.3 136.1 178.2 136.4 175.9 136.7 178.2 137 175.7 137.3 178.5 137.6 175.6 137.9 178.3 138.2 175.3 138.5 178.1 138.8 175.3 139.1 178.6 139.4 175.9 139.7 178.6 140 175.3 140.3 178.5 140.6 175.8 140.9 178 141.2 175.9 141.5 178.1 141.8 175.3 142.1 178 142.4 175.9 142.7 178 143 175.9 143.3 178.3 143.6 175.4 143.9 178.6 144.2 175.9 144.5 178.1 144.8 175.9 145.1 178.6 145.4 175.3 145.7 178.2 146 175.2 146.3 178.2 146.6 175.4 146.9 178.1 147.2 175.7 147.5 178.7 147.8 175.3 148.1 178.2 148.4 175.3 148.7 178.3 149 175.3 149.3 177.9 149.6 175.9 149.9 177.9 150.2 175.5 150.5 178.4 150.8 175.9 151.1 178.2 151.4 175.9 151.7 178.3 152 175.4 152.3 177.9 152.6 175.1 152.9 178.3 153.2 175.9 153.5 178 153.8 175.9 154.1 178.4 154.4 175.2 154.7 177.9 155 175.9 155.3 178.3 155.6 175.3 155.9 178.4 156.2 175.7 156.5 177.9 156.8 175.5 157.1 178.1 157.4 175.3 157.7 178.2 158 175.4 158.3 178.7 158.6 175.5 158.9 178.6 159.2 175.8 159.5 177.9 159.8 175.2 160.1 177.9 160.4 175.1 160.7 178.1 161 175.9 161.3 178 161.6 175.4 161.9 178.1 162.2 175.5 162.5 177.9 162.8 175.3 163.1 178.1 163.4 175.3 163.7 177.9 164 175.5 164.3 178.1 164.6 175.7 164.9 177.9 165.2 175.6 165.5 178.5 165.8 175.9 166.1 178.1 166.4 175.9 166.7 178.7 167 175.1 167.3 178.3 167.6 175.7 167.9 177.9 168.2 175.9 168.5 178.4 168.8 175.3 169.1 178.7 169.4 175.3 169.7 178.1 170 175.8 170.3 178.2 170.6 175.8 170.9 178.2 171.2 175.2 171.5 178.1 171.8 175.1 172.1 178.4 172.4 175.9 172.7 178.4 173 175.5 173.3 178.3 173.6 175.9 173.9 178.5 174.2 175.6 174.5 178.3 174.8 175.7 175.1 178.1 175.4 175.7 175.7 178.3 176 175.4 176.3 178.3 176.6 175.4 176.9 179.1 177.2 174.6 177.5 179.6 177.8 175.1 178.1 179.5 178.4 174.5 178.7 178.8 179 173.7 179.3 179.2 179.6 174.8 179.9 179.1 180.2 173.4 180.5 179 180.8 174.6 181.1 179.4 181.4 174.8 181.7 179.4 182 175.2 182.3 178.9 182.6 174.8 182.9 179 183.2 174.9 183.5 178.5 183.8 175 184.1 179.2 184.4 175.3 184.7 178.6 185 175.1 185.3 178.1 185.6 175.8 185.9 178.7 186.2 175.8 186.5 178.1 186.8 175.7 187.1 178.7 187.4 175.6 187.7 178.6 188 175.9 188.3 178 188.6 175.5 188.9 178 189.2 175.5 189.5 178.2 189.8 175.9 190.1 177.9 190.4 175.7 190.7 178.2 191 175.9 191.3 178 191.6 175.9 191.9 178 192.2 175.8 192.5 178.1 192.8 175.6 193.1 178.5 193.4 175.4" fill="none" stroke="#000" stroke-width="0.8" stroke-linejoin="round"/>
<path d="M38.3 204.2 38.6 198 38.9 205.3 39.2 198.1 39.5 204.8 39.8 197.7 40.1 203.9 40.4 197.3 40.7 203.9 41 197.5 41.3 203.9 41.6 198.1 41.9 204.5 42.2 195.7 42.5 204 42.8 197.9 43.1 205.2 43.4 194.9 43.7 205 44 197.6 44.3 207.3 44.6 198.1 44.9 206.5 45.2 197.8 45.5 204 45.8 198 46.1 204.2 46.4 195.8 46.7 204 47 197 47.3 205.3 47.6 197.7 47.9 204.9 48.2 198.3 48.5 203.4 48.8 198.8 49.1 203.8 49.4 199.1 49.7 202.4 50 199.6 50.3 202.2 50.6 199.9 50.9 202.7 51.2 199.5 51.5 202 51.8 199.7 52.1 202.3 52.4 199.1 52.7 202.6 53 199.9 53.3 203.1 53.6 200 53.9 202.2 54.2 199.4 54.5 202 54.8 199.8 55.1 202 55.4 199.5 55.7 202.7 56 199.7 56.3 202.9 56.6 199.9 56.9 202.5 57.2 199.6 57.5 202.4 57.8 199.8 58.1 202.8 58.4 198.9 58.7 202.2 59 199.5 59.3 202 59.6 199.5 59.9 202.5 60.2 198.8 60.5 202.8 60.8 199.9 61.1 202.1 61.4 199.5 61.7 202 62 199.8 62.3 202 62.6 200 62.9 202 63.2 199.3 63.5 202 63.8 200 64.1 202.1 64.4 199.1 64.7 202 65 199.8 65.3 202.3 65.6 199.1 65.9 202.8 66.2 199.1 66.5 202.1 66.8 199.8 67.1 202.1 67.4 199.1 67.7 203.1 68 200 68.3 202 68.6 200 68.9 202 69.2 199.8 69.5 202.4 69.8 199.9 70.1 202 70.4 199.8 70.7 202.1 71 199.7 71.3 203.1 71.6 199.5 71.9 202.3 72.2 199.6 72.5 202.5 72.8 199 73.1 207.1 73.4 193.9 73.7 209.6 74 193.2 74.3 206.2 74.6 195.8 74.9 205.5 75.2 194.5 75.5 205.5 75.8 196.5 76.1 205.7 76.4 196.4 76.7 206 77 196.5 77.3 205.5 77.6 196.4 77.9 205.5 78.2 195.9 78.5 205.5 78.8 192.4 79.1 207.4 79.4 196.4 79.7 205.8 80 196 80.3 206.1 80.6 196.4 80.9 209.3 81.2 191.1 81.5 206.5 81.8 195.4 82.1 205.5 82.4 196.5 82.7 206 83 196.2 83.3 209.1 83.6 196.4 83.9 205.5 84.2 191.6 84.5 206.9 84.8 196.4 85.1 206.9 85.4 196.5 85.7 206.9 86 191.3 86.3 209.5 86.6 194 86.9 205.8 87.2 195.9 87.5 205.6 87.8 193.4 88.1 206.9 88.4 193.3 88.7 206 89 196.3 89.3 209 89.6 191.2 89.9 209.4 90.2 193.1 90.5 209 90.8 193.7 91.1 205.7 91.4 195.2 91.7 206.1 92 196.5 92.3 205 92.6 197.2 92.9 204.3 93.2 197 93.5 205.5 93.8 199 94.1 203.8 94.4 198 94.7 203.8 95 199.5 95.3 202.4 95.6 199.6 95.9 202.4 96.2 199.6 96.5 202.9 96.8 198.4 97.1 203.4 97.4 199.4 97.7 203 98 198.7 98.3 202.3 98.6 199 98.9 203.6 99.2 198.7 99.5 203.2 99.8 199.4 100.1 202.3 100.4 198.7 100.7 202.4 101 198.7 101.3 203.8 101.6 199.5 101.9 202.5 102.2 198.3 102.5 203.1 102.8 199.7 103.1 202.3 103.4 199.7 103.7 203.5 104 198.7 104.3 202.3 104.6 198.7 104.9 203.8 105.2 199.1 105.5 202.4 105.8 199.3 106.1 202.3 106.4 199.7 106.7 203.7 107 199.1 107.3 202.6 107.6 198.4 107.9 202.5 108.2 198.6 108.5 203.3 108.8 199.7 109.1 202.3 109.4 199.7 109.7 202.3 110 199.3 110.3 202.3 110.6 199.5 110.9 202.3 111.2 198.5 111.5 202.4 111.8 199.5 112.1 202.7 112.4 198.6 112.7 202.4 113 198.5 113.3 202.5 113.6 199.4 113.9 202.6 114.2 199.8 114.5 202.5 114.8 199.8 115.1 202.2 115.4 198.9 115.7 202.2 116 199.5 116.3 202.9 116.6 199.4 116.9 202.3 117.2 199.5 117.5 202.6 117.8 199 118.1 202.2 118.4 199.4 118.7 202.3 119 199.7 119.3 203 119.6 199.5 119.9 202.6 120.2 199 120.5 203.3 120.8 199.6 121.1 202.9 121.4 198.5 121.7 204.2 122 196.2 122.3 205.5 122.6 195.4 122.9 206.3 123.2 192.2 123.5 207.6 123.8 192.9 124.1 209.8 124.4 196.5 124.7 206.7 125 192.2 125.3 208.7 125.6 196.7 125.9 205.3 126.2 195.9 126.5 205.2 126.8 196.6 127.1 205.2 127.4 194.7 127.7 208.2 128 192.8 128.3 205.3 128.6 194.4 128.9 207.2 129.2 196.8 129.5 209 129.8 192.1 130.1 205.3 130.4 192.3 130.7 205.8 131 195.8 131.3 210 131.6 193.5 131.9 205.2 132.2 196.1 132.5 206.3 132.8 196.4 133.1 205.2 133.4 196.5 133.7 207.5 134 196.9 134.3 206.4 134.6 196.1 134.9 205.1 135.2 196.8 135.5 205.9 135.8 197 136.1 203.7 136.4 195.8 136.7 204.9 137 196.1 137.3 203.4 137.6 198.5 137.9 203.4 138.2 196.9 138.5 203.6 138.8 198.5 139.1 204 139.4 195.9 139.7 205.6 140 198.2 140.3 203.7 140.6 195.6 140.9 204.7 141.2 196.7 141.5 203.8 141.8 198.2 142.1 205.4 142.4 197.6 142.7 203.9 143 194.9 143.3 205.3 143.6 195.7 143.9 204 144.2 195.3 144.5 204.1 144.8 195.1 145.1 204.7 145.4 198 145.7 204.2 146 196.7 146.3 202.9 146.6 199.5 146.9 202.5 147.2 199.9 147.5 202 147.8 199.9 148.1 202 148.4 199.9 148.7 202.1 149 199.9 149.3 202.7 149.6 199.9 149.9 202.3 150.2 199.9 150.5 202.2 150.8 200 151.1 202.1 151.4 200 151.7 202.7 152 199.6 152.3 202.1 152.6 199.7 152.9 203.1 153.2 200 153.5 202.9 153.8 199.8 154.1 202.3 154.4 199.1 154.7 202.2 155 199.7 155.3 202.6 155.6 198.7 155.9 202.2 156.2 199.1 156.5 202.6 156.8 199.5 157.1 202.2 157.4 199.8 157.7 202 158 200 158.3 202 158.6 199.3 158.9 202.1 159.2 199.9 159.5 202 159.8 199.1 160.1 203 160.4 199.4 160.7 202.1 161 199.9 161.3 202.1 161.6 199.7 161.9 202.1 162.2 199.8 162.5 202.1 162.8 198.8 163.1 203.2 163.4 199.6 163.7 202.1 164 198.8 164.3 202.1 164.6 199.8 164.9 202 165.2 199.8 165.5 202.3 165.8 198.5 166.1 204.1 166.4 196 166.7 205.3 167 196.5 167.3 205.3 167.6 196.1 167.9 205.3 168.2 196.8 168.5 205.6 168.8 196.6 169.1 206.8 169.4 195.5 169.7 208 170 194.7 170.3 207.7 170.6 192.9 170.9 205.8 171.2 196.4 171.5 210.1 171.8 196.7 172.1 207.7 172.4 194.9 172.7 205.2 173 193.4 173.3 209.1 173.6 195 173.9 207.7 174.2 193.6 174.5 205.2 174.8 195.6 175.1 206.3 175.4 193.5 175.7 208.2 176 193.6 176.3 206.7 176.6 193 176.9 207.3 177.2 194.7 177.5 205.3 177.8 196.9 178.1 205.1 178.4 196.4 178.7 205.1 179 193.6 179.3 206.4 179.6 195.2 179.9 206.8 180.2 194.9 180.5 206 180.8 197.1 181.1 207.8 181.4 194.7 181.7 205.8 182 196.1 182.3 206.5 182.6 197.3 182.9 206.9 183.2 197.2 183.5 204.6 183.8 197.3 184.1 206.6 184.4 197.4 184.7 206.5 185 193.8 185.3 205.2 185.6 197.3 185.9 205 186.2 196.2 186.5 206.3 186.8 196.6 187.1 205.4 187.4 198 187.7 204 188 197.9 188.3 205.7 188.6 197.9 188.9 204.8 189.2 198.3 189.5 203.7 189.8 198.2 190.1 204.9 190.4 197.1 190.7 204.8 191 198.3 191.3 204.1 191.6 198.1 191.9 203.8 192.2 198.7 192.5 205.3 192.8 198.8 193.1 205.6 193.4 196.8" fill="none" stroke="#000" stroke-width="0.8" stroke-linejoin="round"/>
<path d="M38.3 223.5 38.6 218.6 38.9 223.5 39.2 219.2 39.5 223.5 39.8 219.8 40.1 224.9 40.4 219.9 40.7 224.1 41 219.6 41.3 223.8 41.6 219.6 41.9 223.5 42.2 218.9 42.5 223.5 42.8 219.8 43.1 223.5 43.4 219.8 43.7 223.7 44 218.8 44.3 223.7 44.6 219.9 44.9 223.6 45.2 218.5 45.5 223.5 45.8 219.4 46.1 223.7 46.4 219.3 46.7 223.6 47 219.2 47.3 223.8 47.6 219.3 47.9 224.6 48.2 219.4 48.5 223.5 48.8 219.9 49.1 224.8 49.4 219.6 49.7 223.5 50 218.6 50.3 224.1 50.6 218.7 50.9 225.4 51.2 219.1 51.5 224.6 51.8 217.2 51.9 218.2 52 228 52.1 219.6 52.3 224.8 52.4 217.7 52.7 224.3 53 218.4 53.3 224.9 53.6 218 53.9 224.8 54.2 219.5 54.5 223.5 54.8 219.9 55.1 223.9 55.4 219.5 55.7 223.5 56 218.8 56.3 223.9 56.6 219.2 56.9 223.5 57.2 219.8 57.5 223.5 57.8 219.8 58.1 223.6 58.4 219.7 58.7 223.7 59 218.9 59.3 224.6 59.6 219.9 59.9 223.7 60.2 219.9 60.5 224.1 60.8 218.6 61.1 223.5 61.4 219.1 61.7 223.6 62 219.9 62.3 224.3 62.6 219.8 62.9 223.5 63.2 219.6 63.5 223.5 63.8 219.7 64.1 223.8 64.4 219.7 64.7 224 65 219.8 65.3 223.5 65.6 219.9 65.9 223.5 66.2 219.5 66.5 223.7 66.8 219 67.1 223.9 67.4 219.2 67.7 224.8 68 219.9 68.3 223.5 68.6 219.9 68.9 223.7 69.2 219.4 69.5 224.3 69.8 219.7 70.1 224.8 70.4 219.9 70.7 224.5 71 219.9 71.3 224.6 71.6 219.9 71.9 224.8 72.2 219.1 72.5 224.9 72.8 219.4 73.1 223.5 73.4 218.6 73.7 223.8 74 219.9 74.3 224 74.6 219.6 74.9 223.8 75.2 219.9 75.5 223.5 75.8 219.4 76.1 223.8 76.4 219.9 76.7 223.8 77 219.2 77.3 224.2 77.6 219.6 77.9 223.7 78.2 219.5 78.5 223.9 78.8 219.4 79.1 224.5 79.4 219.2 79.7 225.5 79.8 216.7 80 225.7 80.2 218.7 80.3 223.7 80.3 225.2 80.6 219.2 80.9 224.3 81.2 219.1 81.5 223.8 81.8 218.3 82.1 224.3 82.4 219.6 82.7 224.2 83 219.9 83.3 223.5 83.6 219.5 83.9 224.3 84.2 219.3 84.5 223.5 84.8 219.4 85.1 224.7 85.4 219.1 85.7 224.7 86 218.5 86.3 223.5 86.6 219.8 86.9 223.9 87.2 218.6 87.5 223.7 87.8 218.7 88.1 224.5 88.4 219.5 88.7 224 89 218.6 89.3 224.4 89.6 219.8 89.9 224.5 90.2 219.9 90.5 223.7 90.8 218.6 91.1 224.5 91.4 219.8 91.7 223.6 92 219.4 92.3 224.5 92.6 219.2 92.9 224.7 93.2 219.2 93.5 224.4 93.8 219.4 94.1 223.7 94.4 219.7 94.7 223.8 95 219.5 95.3 224.5 95.6 219.8 95.9 223.5 96.2 219.1 96.5 223.6 96.8 219.7 97.1 223.5 97.4 218.9 97.7 223.6 98 219.8 98.3 224.4 98.6 219.5 98.9 223.6 99.2 218.8 99.5 223.7 99.8 219.7 100.1 224.8 100.4 219 100.7 224.3 101 219.8 101.3 224.4 101.6 219.4 101.9 224.5 102.2 219.7 102.5 224.4 102.8 219 103.1 223.7 103.4 219.3 103.7 224.4 104 218.5 104.3 224.7 104.6 219 104.9 223.5 105.2 219.4 105.5 224.2 105.8 219.9 106.1 223.8 106.4 218.8 106.7 224.7 107 218.7 107.3 223.5 107.6 219.4 107.9 224.6 108.2 219.3 108.5 223.6 108.8 219.9 109.1 224.7 109.4 218.9 109.7 224.1 110 219.7 110.3 224.5 110.6 219 110.9 224.2 111.2 219.4 111.5 223.6 111.8 219.8 112.1 223.7 112.4 219.8 112.7 223.9 113 219.9 113.3 224.2 113.6 219.7 113.9 223.5 114.2 219.8 114.5 223.7 114.8 219.6 115.1 224.4 115.4 219.9 115.7 223.5 116 219.8 116.3 223.5 116.6 219.1 116.9 223.5 117.2 219.9 117.5 223.9 117.8 219.1 118.1 224.5 118.4 219.5 118.7 223.6 119 218.8 119.3 224.3 119.6 219.6 119.9 223.9 120.2 218.7 120.5 224.9 120.8 218.7 121.1 223.5 121.4 219.8 121.7 223.7 122 219.9 122.3 224.3 122.6 219.9 122.9 224.6 123.2 219.4 123.5 224.2 123.8 219.4 124.1 225.3 124.4 218.8 124.7 225.6 125 217.5 125.3 225.4 125.6 216.8 125.9 225.1 126.2 218.4 126.5 226.6 126.8 217.7 126.8 217.7 127 227.7 127.2 219.3 127.3 224.7 127.4 217.3 127.7 225.4 128 218.7 128.3 226.3 128.6 218.3 128.9 226.5 129.2 218.4 129.5 226.1 129.8 219 130.1 224.2 130.4 218.9 130.7 225 131 218.4 131.3 224.4 131.6 219.8 131.9 223.8 132.2 219.9 132.5 223.7 132.8 218.6 133.1 223.7 133.4 219.2 133.7 224 134 219.9 134.3 224.2 134.6 219.9 134.9 223.5 135.2 219.4 135.5 223.5 135.8 218.6 136.1 223.7 136.4 219.3 136.7 224.8 137 219.9 137.3 224.9 137.6 219.9 137.9 224 138.2 219.3 138.5 224.9 138.8 219.7 139.1 224.8 139.4 219.3 139.7 223.8 140 219.9 140.3 223.6 140.6 219.7 140.9 223.7 141.2 219.7 141.5 224.4 141.8 219.7 142.1 224.1 142.4 219.9 142.7 223.5 143 219.2 143.3 224.6 143.6 219.8 143.9 223.5 144.2 219.8 144.5 223.7 144.8 219.7 145.1 223.9 145.4 219.8 145.7 224.1 146 219 146.3 224.4 146.6 219.1 146.9 224 147.2 219.8 147.5 224.5 147.8 219.8 148.1 224.5 148.4 219.6 148.7 224.1 149 219.6 149.3 224.1 149.6 219.8 149.9 224 150.2 219.1 150.5 223.7 150.8 219.4 151.1 223.8 151.4 219.6 151.7 223.7 152 219.5 152.3 224.2 152.6 219.9 152.9 223.5 153.2 218.9 153.5 223.5 153.8 219 154.1 224.3 154.4 219.9 154.7 224.1 155 219.8 155.3 224.6 155.6 219.9 155.9 223.5 156.2 219.9 156.5 224.2 156.8 219.9 157.1 223.6 157.4 218.6 157.7 224.3 158 219.1 158.3 224 158.6 219.3 158.9 223.5 159.2 219 159.5 223.6 159.8 218.9 160.1 223.7 160.4 218.7 160.7 223.5 161 218.6 161.3 223.5 161.6 219.5 161.9 223.8 162.2 218.5 162.5 224.2 162.8 218.5 163.1 224.7 163.4 219.7 163.7 223.5 164 219.9 164.3 224.2 164.6 218.6 164.9 224.1 165.2 219.7 165.5 224 165.8 219.3 166.1 223.6 166.4 219.2 166.7 223.5 167 219.9 167.3 223.5 167.6 219.6 167.9 224.2 168.2 219.9 168.5 223.7 168.8 219.2 169.1 223.6 169.4 219.5 169.7 224 170 219.7 170.3 223.5 170.6 219.2 170.9 224.2 171.2 219.9 171.5 224.4 171.8 219.3 172.1 224.6 172.4 219 172.7 223.8 173 219.2 173.3 223.6 173.6 219.2 173.9 223.6 174.2 219.5 174.5 224.3 174.8 218.1 175.1 224.9 175.4 217.7 175.7 225.7 176 217.2 176.3 225.2 176.6 218.1 176.9 225 177.2 218.7 177.5 226.2 177.8 217.7 178.1 224.8 178.4 218.5 178.7 224.8 179 217.6 179.3 225.4 179.6 218.9 179.9 225.4 180.2 218.4 180.5 224.4 180.8 218.8 181.1 226 181.4 219.3 181.7 224.1 182 218.8 182.3 225.1 182.6 218.2 182.9 224 183.2 218.8 183.5 223.6 183.8 219.7 184.1 224.5 184.4 219.3 184.7 223.8 185 219.4 185.3 223.8 185.6 219.5 185.9 224.6 186.2 218.6 186.5 223.5 186.8 219.1 187.1 224.8 187.4 219.4 187.7 223.8 188 219.7 188.3 223.8 188.6 219.4 188.9 224 189.2 219.9 189.5 224.9 189.8 219.8 190.1 223.9 190.4 219.9 190.7 224.1 191 219.9 191.3 223.6 191.6 219.7 191.9 223.6 192.2 219.6 192.5 223.5 192.8 219.6 193.1 224.4 193.4 219.3" fill="none" stroke="#000" stroke-width="0.8" stroke-linejoin="round"/>
<line x1="43" y1="236.6" x2="64.4" y2="236.6" stroke="#444" stroke-width="1"/>
<text x="47.9" y="244.4" font-size="7.2" fill="#333" font-weight="bold" letter-spacing="0.7">2s</text>
<path d="M197.2 197.2H199.8V228.6H197.2M199.8 213.1h2" fill="none" stroke="#777" stroke-width="1"/>
<text x="203.3" y="205.7" font-size="8.7" fill="#444">ankle</text>
<text x="205" y="215.8" font-size="8.7" fill="#444">joint</text>
<text x="205" y="226" font-size="8.7" fill="#444">mov.</text>
<text x="349.9" y="28.5" font-size="9.1" font-style="italic" fill="#333">preterm</text>
<text x="270.4" y="42.6" font-size="8.75" fill="#333">0.5–3 mo</text>
<text x="326.8" y="42.6" font-size="8.75" fill="#333">3–6 mo</text>
<text x="378.3" y="42.6" font-size="8.75" fill="#333">6–9 mo</text>
<text x="435.2" y="42.6" font-size="8.75" fill="#333">9–12 mo</text>
<circle cx="284.4" cy="79.0" r="22.2" fill="#fff" stroke="#3a3a3a" stroke-width="1.1"/>
<path d="M284.4 79.0L284.4 56.8A22.2 22.2 0 1 1 262.23 80.16Z" fill="#ababab" stroke="#3a3a3a" stroke-width="1.1" stroke-linejoin="round"/>
<circle cx="339.4" cy="79.3" r="22.3" fill="#fff" stroke="#3a3a3a" stroke-width="1.1"/>
<path d="M339.4 79.3L339.4 57A22.3 22.3 0 1 1 318.72 87.65Z" fill="#ababab" stroke="#3a3a3a" stroke-width="1.1" stroke-linejoin="round"/>
<circle cx="393.7" cy="79.3" r="22.6" fill="#fff" stroke="#3a3a3a" stroke-width="1.1"/>
<path d="M393.7 79.3L393.7 56.7A22.6 22.6 0 0 1 416.27 80.48Z" fill="#ababab" stroke="#3a3a3a" stroke-width="1.1" stroke-linejoin="round"/>
<circle cx="449.3" cy="78.9" r="22.8" fill="#fff" stroke="#3a3a3a" stroke-width="1.1"/>
<path d="M449.3 78.9L449.3 56.1A22.8 22.8 0 0 1 471.36 84.65Z" fill="#ababab" stroke="#3a3a3a" stroke-width="1.1" stroke-linejoin="round"/>
<text x="249.3" y="66.5" font-size="7.4" fill="#2a2a2a" stroke="#2a2a2a" stroke-width="0.2">n=22</text>
<text x="299" y="101.4" font-size="7.4" fill="#2a2a2a" stroke="#2a2a2a" stroke-width="0.2">n=63</text>
<text x="304.8" y="64.3" font-size="7.4" fill="#2a2a2a" stroke="#2a2a2a" stroke-width="0.2">n=28</text>
<text x="356.7" y="61.1" font-size="7.4" fill="#2a2a2a" stroke="#2a2a2a" stroke-width="0.2">n=61</text>
<text x="359.2" y="98.4" font-size="7.4" fill="#2a2a2a" stroke="#2a2a2a" stroke-width="0.2">n=40</text>
<text x="408.9" y="61.1" font-size="7.4" fill="#2a2a2a" stroke="#2a2a2a" stroke-width="0.2">n=14</text>
<text x="465.8" y="60.6" font-size="7.4" fill="#2a2a2a" stroke="#2a2a2a" stroke-width="0.2">n=17</text>
<text x="417.6" y="97.2" font-size="7.4" fill="#2a2a2a" stroke="#2a2a2a" stroke-width="0.2">n=7</text>
<text x="352.9" y="124.7" font-size="9.1" font-style="italic" fill="#333">full-term</text>
<circle cx="283.7" cy="157.4" r="22.6" fill="#fff" stroke="#3a3a3a" stroke-width="1.1"/>
<path d="M283.7 157.4L283.7 134.8A22.6 22.6 0 1 1 264.75 169.71Z" fill="#ababab" stroke="#3a3a3a" stroke-width="1.1" stroke-linejoin="round"/>
<circle cx="339.6" cy="158.7" r="22.2" fill="#fff" stroke="#3a3a3a" stroke-width="1.1"/>
<path d="M339.6 158.7L339.6 136.5A22.2 22.2 0 1 1 327.19 177.10Z" fill="#ababab" stroke="#3a3a3a" stroke-width="1.1" stroke-linejoin="round"/>
<circle cx="394.2" cy="157.4" r="22.9" fill="#fff" stroke="#3a3a3a" stroke-width="1.1"/>
<path d="M394.2 157.4L394.2 134.5A22.9 22.9 0 0 1 417.05 158.88Z" fill="#ababab" stroke="#3a3a3a" stroke-width="1.1" stroke-linejoin="round"/>
<circle cx="449.3" cy="157.3" r="23.2" fill="#fff" stroke="#3a3a3a" stroke-width="1.1"/>
<path d="M449.3 157.3L449.3 134.1A23.2 23.2 0 0 1 471.79 151.61Z" fill="#ababab" stroke="#3a3a3a" stroke-width="1.1" stroke-linejoin="round"/>
<text x="243" y="163.6" font-size="7.4" fill="#2a2a2a" stroke="#2a2a2a" stroke-width="0.2">n=33</text>
<text x="296.9" y="134.2" font-size="7.4" fill="#2a2a2a" stroke="#2a2a2a" stroke-width="0.2">n=66</text>
<text x="353.4" y="137" font-size="7.4" fill="#2a2a2a" stroke="#2a2a2a" stroke-width="0.2">n=86</text>
<text x="303.2" y="175.8" font-size="7.4" fill="#2a2a2a" stroke="#2a2a2a" stroke-width="0.2">n=59</text>
<text x="406.3" y="133.9" font-size="7.4" fill="#2a2a2a" stroke="#2a2a2a" stroke-width="0.2">n=19</text>
<text x="364.1" y="180.9" font-size="7.4" fill="#2a2a2a" stroke="#2a2a2a" stroke-width="0.2">n=54</text>
<text x="463.1" y="138.9" font-size="7.4" fill="#2a2a2a" stroke="#2a2a2a" stroke-width="0.2">n=13</text>
<text x="417" y="180.9" font-size="7.4" fill="#2a2a2a" stroke="#2a2a2a" stroke-width="0.2">n=50</text>
<rect x="276.6" y="200.8" width="6.4" height="6.4" fill="#ababab" stroke="#555" stroke-width="0.8"/>
<rect x="276.6" y="213.0" width="6.4" height="6.4" fill="#fff" stroke="#555" stroke-width="0.8"/>
<text x="288.3" y="206.1" font-size="7.32" font-style="italic" fill="#222" stroke="#222" stroke-width="0.2">rhythmic activity in other joints of the ipsilateral limb</text>
<text x="288.3" y="217.7" font-size="7.32" font-style="italic" fill="#222" stroke="#222" stroke-width="0.2">absence of rhythmic activity in other joints of the ipsilateral limb</text>
<text x="5" y="296.4" font-size="19.4" fill="#222">(B)</text>
<text x="176.1" y="282.6" font-size="9.5" fill="#333">muscles of the contralateral&#160; limb</text>
<rect x="45.6" y="297.3" width="31.6" height="49.2" fill="#f1f1f1"/>
<rect x="94.5" y="297.3" width="20.1" height="49.2" fill="#f1f1f1"/>
<rect x="138.6" y="297.3" width="23.9" height="49.2" fill="#f1f1f1"/>
<text x="101" y="296" font-size="9.0" fill="#333">3 mo</text>
<text x="182.2" y="299.6" font-size="6.9" fill="#333">150 µV</text>
<line x1="191.3" y1="302.7" x2="191.3" y2="317.2" stroke="#333" stroke-width="1"/>
<path d="M197.9 301.8H200.5V347.2H197.9M200.5 324.5h2" fill="none" stroke="#777" stroke-width="1"/>
<text x="201.8" y="317.5" font-size="8.75" fill="#444">left hip</text>
<text x="206.3" y="328" font-size="8.75" fill="#444">joint</text>
<text x="206.3" y="337.5" font-size="8.75" fill="#444">mov.</text>
<text x="25" y="308" font-size="9.3" fill="#2a2a2a" stroke="#2a2a2a" stroke-width="0.15" textLength="10.6" lengthAdjust="spacingAndGlyphs">RF</text>
<text x="35.8" y="309.6" font-size="5.8" fill="#2a2a2a">L</text>
<text x="26" y="324.7" font-size="9.3" fill="#2a2a2a" stroke="#2a2a2a" stroke-width="0.15" textLength="9.6" lengthAdjust="spacingAndGlyphs">BF</text>
<text x="35.8" y="326.3" font-size="5.8" fill="#2a2a2a">L</text>
<text x="15.5" y="342.5" font-size="8.9" fill="#2a2a2a" stroke="#2a2a2a" stroke-width="0.15" textLength="18.9" lengthAdjust="spacingAndGlyphs">thigh</text>
<text x="34.6" y="344.1" font-size="5.8" fill="#2a2a2a">L</text>
<text x="24.2" y="361.8" font-size="9.3" fill="#2a2a2a" stroke="#2a2a2a" stroke-width="0.15" textLength="10.6" lengthAdjust="spacingAndGlyphs">RF</text>
<text x="35" y="363.4" font-size="5.8" fill="#2a2a2a">R</text>
<text x="24.8" y="380.3" font-size="9.3" fill="#2a2a2a" stroke="#2a2a2a" stroke-width="0.15" textLength="9.6" lengthAdjust="spacingAndGlyphs">BF</text>
<text x="34.6" y="381.9" font-size="5.8" fill="#2a2a2a">R</text>
<text x="14.2" y="397.3" font-size="8.9" fill="#2a2a2a" stroke="#2a2a2a" stroke-width="0.15" textLength="18.9" lengthAdjust="spacingAndGlyphs">thigh</text>
<text x="33.3" y="398.9" font-size="5.8" fill="#2a2a2a">R</text>
<path d="M44.7 303.6 45 302.1 45.3 303.9 45.6 302.2 45.9 303.6 46.2 302.1 46.5 303.5 46.8 302.2 47.1 303.7 47.4 302 47.7 303.5 48 302.2 48.3 303.5 48.6 302 48.9 303.7 49.2 302.3 49.5 303.9 49.8 301.9 50.1 303.7 50.4 302.1 50.7 303.5 51 302.3 51.3 303.6 51.6 302.3 51.9 303.5 52.2 302.3 52.5 303.5 52.8 302.2 53.1 303.6 53.4 302 53.7 303.6 54 302.1 54.3 303.6 54.6 302.1 54.9 303.6 55.2 302.2 55.5 303.9 55.8 301.9 56.1 303.8 56.4 302.1 56.7 303.6 57 302.3 57.3 303.6 57.6 302.3 57.9 303.8 58.2 302.2 58.5 303.8 58.8 302.2 59.1 303.9 59.4 302 59.7 303.5 60 302.3 60.3 303.8 60.6 302.2 60.9 303.9 61.2 302.2 61.5 303.5 61.8 302.1 62.1 303.8 62.4 302.3 62.7 303.5 63 302.2 63.3 303.9 63.6 302 63.9 303.5 64.2 302.3 64.5 303.5 64.8 302.3 65.1 303.8 65.4 302.3 65.7 303.7 66 302.2 66.3 303.5 66.6 302.1 66.9 303.5 67.2 302.1 67.5 303.5 67.8 302.2 68.1 303.5 68.4 302.3 68.7 303.9 69 302 69.3 303.6 69.6 302 69.9 303.5 70.2 302.2 70.5 303.8 70.8 302.1 71.1 303.5 71.4 301.9 71.7 303.5 72 302.3 72.3 303.8 72.6 302.2 72.9 303.6 73.2 302.3 73.5 303.5 73.8 302.1 74.1 303.5 74.4 302.1 74.7 303.6 75 302.2 75.3 303.9 75.6 302.2 75.9 303.7 76.2 302 76.5 303.5 76.8 302.3 77.1 303.8 77.4 302 77.7 303.5 78 302.3 78.3 303.7 78.6 301.9 78.9 303.5 79.2 301.9 79.5 303.8 79.8 302.1 80.1 303.6 80.4 302.3 80.7 303.5 81 301.9 81.3 303.5 81.6 302.1 81.9 303.5 82.2 302 82.5 303.7 82.8 302.2 83.1 303.5 83.4 302.1 83.7 303.5 84 302.3 84.3 303.7 84.6 302 84.9 303.7 85.2 302.2 85.5 303.8 85.8 302.3 86.1 303.5 86.4 302.3 86.7 303.6 87 302.3 87.3 303.5 87.6 302.2 87.9 303.7 88.2 302.3 88.5 303.6 88.8 302 89.1 303.9 89.4 302.1 89.7 303.7 90 302.1 90.3 303.5 90.6 302.3 90.9 303.5 91.2 302 91.5 303.7 91.8 301.9 92.1 303.5 92.4 302.1 92.7 303.6 93 302.1 93.3 303.6 93.6 301.9 93.9 303.5 94.2 302.1 94.5 303.7 94.8 302 95.1 303.7 95.4 302.1 95.7 303.8 96 302 96.3 303.6 96.6 302.1 96.9 303.8 97.2 302 97.5 303.6 97.8 302 98.1 303.8 98.4 302.1 98.7 303.7 99 302.2 99.3 303.7 99.6 302.1 99.9 303.5 100.2 302.1 100.5 303.9 100.8 302 101.1 303.7 101.4 302.2 101.7 303.7 102 302.1 102.3 303.6 102.6 302 102.9 303.5 103.2 302 103.5 303.5 103.8 302.1 104.1 303.6 104.4 302.3 104.7 303.7 105 302.2 105.3 303.7 105.6 301.9 105.9 303.5 106.2 302.3 106.5 303.6 106.8 302.1 107.1 303.5 107.4 302.3 107.7 303.8 108 302.1 108.3 303.6 108.6 302 108.9 303.6 109.2 302.1 109.5 303.5 109.8 302.2 110.1 303.8 110.4 302 110.7 303.8 111 302.2 111.3 303.7 111.6 302.2 111.9 303.5 112.2 302.2 112.5 303.8 112.8 302 113.1 303.7 113.4 301.9 113.7 303.6 114 302.3 114.3 303.6 114.6 302.2 114.9 303.5 115.2 302.2 115.5 303.7 115.8 302.2 116.1 303.6 116.4 302 116.7 303.9 117 302.2 117.3 303.5 117.6 302.3 117.9 303.8 118.2 302.3 118.5 303.7 118.8 302.1 119.1 303.6 119.4 302 119.7 303.5 120 302.3 120.3 303.6 120.6 302.3 120.9 303.8 121.2 302.3 121.5 303.5 121.8 302.3 122.1 303.7 122.4 302.2 122.7 303.7 123 302.1 123.3 303.8 123.6 301.9 123.9 303.7 124.2 302.3 124.5 303.6 124.8 302.3 125.1 303.5 125.4 302.2 125.7 303.7 126 302.3 126.3 303.5 126.6 302.2 126.9 303.7 127.2 302.2 127.5 303.7 127.8 302 128.1 303.6 128.4 302 128.7 303.8 129 302.2 129.3 304.2 129.6 301.6 129.9 304 130.2 301.5 130.5 304.7 130.8 300.6 131.1 304.7 131.4 301 131.7 305 132 301 132.3 304.9 132.6 301.5 132.9 304.4 133.2 301.8 133.5 304.2 133.8 301.6 134.1 304 134.4 301.9 134.7 303.6 135 302 135.3 303.9 135.6 301.9 135.9 303.6 136.2 302 136.5 303.6 136.8 302 137.1 303.8 137.4 302.2 137.7 303.5 138 302.2 138.3 303.7 138.6 302 138.9 303.6 139.2 302.3 139.5 303.8 139.8 302.3 140.1 303.8 140.4 302.3 140.7 303.6 141 302 141.3 303.5 141.6 302.3 141.9 303.6 142.2 302.1 142.5 303.8 142.8 302.1 143.1 303.9 143.4 302.2 143.7 303.9 144 302.3 144.3 303.5 144.6 302.2 144.9 303.6 145.2 302.1 145.5 303.7 145.8 302.2 146.1 303.8 146.4 302.1 146.7 303.6 147 302.2 147.3 303.8 147.6 302 147.9 303.5 148.2 302 148.5 303.9 148.8 302.2 149.1 303.7 149.4 302.3 149.7 303.6 150 302.2 150.3 303.7 150.6 302.3 150.9 303.9 151.2 302.2 151.5 303.6 151.8 302 152.1 303.7 152.4 302.2 152.7 303.7 153 302.3 153.3 303.6 153.6 302.2 153.9 303.9 154.2 301.9 154.5 303.5 154.8 302.2 155.1 303.5 155.4 302.2 155.7 303.8 156 302 156.3 303.6 156.6 302.2 156.9 303.5 157.2 302.1 157.5 303.9 157.8 302.3 158.1 303.8 158.4 302.3 158.7 303.5 159 302.3 159.3 303.7 159.6 302.2 159.9 303.6 160.2 302.1 160.5 303.5 160.8 302.1 161.1 303.5 161.4 302.2 161.7 303.5 162 302.3 162.3 303.6 162.6 302.2 162.9 303.6 163.2 302.2 163.5 303.6 163.8 302.3 164.1 303.5 164.4 302.1 164.7 303.7 165 302.2 165.3 303.8 165.6 302.1 165.9 303.8 166.2 302.3 166.5 303.7 166.8 302 167.1 304 167.4 301.8 167.4 298.1 167.6 306.7 167.8 300 167.9 304.8 168 300.2 168.3 305.1 168.6 299.2 168.9 306.1 169.2 301 169.5 304.7 169.8 300.7 170.1 304.4 170.4 301.7 170.7 304.4 171 301.9 171.3 303.9 171.6 302.3 171.9 303.6 172.2 302.1 172.5 303.5 172.8 302.3 173.1 303.7 173.4 302 173.7 303.9 174 302.3 174.3 303.6 174.6 302 174.9 303.6 175.2 302.1 175.5 303.5 175.8 302.3 176.1 303.5 176.4 302.3 176.7 303.7 177 302.2 177.3 303.7 177.6 302.3 177.9 303.5 178.2 302.3 178.5 303.8 178.8 301.9 179.1 303.9 179.4 302.3 179.7 303.5 180 301.9 180.3 303.6 180.6 302 180.9 303.6 181.2 302.2 181.5 303.6 181.8 302.2 182.1 303.7 182.4 302.3 182.7 303.7 183 302 183.3 303.5 183.6 302.2 183.9 303.7 184.2 302.2 184.5 303.5 184.8 302.3" fill="none" stroke="#000" stroke-width="0.8" stroke-linejoin="round"/>
<path d="M44.7 320.9 45 319 45.3 321 45.6 319.3 45.9 320.7 46.2 319.2 46.5 320.8 46.8 318.9 47.1 321 47.4 319 47.7 320.9 48 319 48.3 320.7 48.6 319.1 48.9 320.8 49.2 318.8 49.5 320.7 49.8 318.9 50.1 320.7 50.4 319 50.7 320.8 51 319.2 51.3 321.1 51.6 319.3 51.9 320.7 52.2 318.8 52.5 320.9 52.8 319.3 53.1 321.2 53.4 318.8 53.7 320.7 54 319.1 54.3 320.7 54.6 319.2 54.9 321 55.2 319.2 55.5 321 55.8 310.7 55.9 327.4 56 314.4 56.2 323.7 56.1 322.4 56.4 316.5 56.6 314 56.8 325 56.9 316.4 57.1 322.5 57 317.3 57.3 323 57.6 317.3 57.9 322.6 58.2 317.8 58.5 323.2 58.8 316.3 59.1 323.7 59.4 317 59.7 322.4 60 317.6 60.3 323 60.6 317.1 60.9 322.1 61.2 317.8 61.5 322.4 61.8 317.5 62.1 323.1 62.4 317.5 62.7 322 63 317 63.3 322.3 63.6 317.6 63.9 322 64.2 317.8 64.5 322.2 64.8 317.3 65.1 321.9 65.4 317.7 65.7 321.9 66 317.5 66.3 321.8 66.6 318.1 66.9 321.9 67.2 317.7 67.5 321.7 67.8 318 68.1 321.7 68.4 318.2 68.7 321.9 69 317.4 69.3 321.9 69.6 317.4 69.9 321.6 70.2 317.6 70.5 321.7 70.8 318.5 71.1 322.1 71.4 317.7 71.7 321.4 72 318.5 72.3 322 72.6 318.5 72.9 321.4 73.2 318.7 73.5 321.3 73.8 318.4 74.1 322.1 74.4 318 74.7 321.4 75 318.9 75.3 321.2 75.6 318.4 75.9 321.7 76.2 318.6 76.5 321.1 76.8 318.7 77.1 321.2 77.4 318.7 77.7 321 78 318.5 78.3 321.4 78.6 319.1 78.9 320.9 79.2 318.7 79.5 320.9 79.8 318.7 80.1 321 80.4 319 80.7 321 81 319.2 81.3 320.8 81.6 319.2 81.9 321 82.2 319 82.5 320.7 82.8 318.8 83.1 320.9 83.4 319.2 83.7 320.9 84 318.8 84.3 320.9 84.6 319 84.9 321.2 85.2 318.8 85.5 321.1 85.8 319.1 86.1 320.9 86.4 318.8 86.7 321.1 87 319.1 87.3 320.8 87.6 319.2 87.9 321 88.2 319.1 88.5 320.7 88.8 319 89.1 321.2 89.4 318.9 89.7 321.2 90 318.8 90.3 320.9 90.6 318.9 90.9 320.8 91.2 319.3 91.5 320.8 91.8 319.2 92.1 321.2 92.4 319 92.7 320.9 93 319 93.3 320.7 93.6 319.1 93.9 321 94.2 319.2 94.5 320.8 94.8 319.2 95.1 320.8 95.4 319 95.7 320.7 96 319.3 96.3 320.8 96.6 319 96.9 321.1 97.2 319 97.5 321.2 97.8 319.2 98.1 320.7 98.4 319.1 98.7 320.9 99 319.2 99.3 321 99.6 319.2 99.9 320.8 100.2 319.2 100.5 321.2 100.8 319.3 101.1 320.8 101.4 319.2 101.7 320.8 102 319.1 102.3 320.8 102.6 318.8 102.9 320.9 103.2 319 103.5 320.8 103.8 319.1 104.1 321 104.2 315 104.4 324.8 104.6 317 104.7 322.4 104.7 322.8 105 316.9 105.1 316 105.3 324 105.5 317.6 105.6 322 105.6 316.2 105.9 322.6 106.2 317 106.5 323.4 106.8 317.3 107.1 323.1 107.4 317 107.7 323.7 108 317.3 108.3 322.9 108.6 317.7 108.9 322.9 109.2 317.8 109.5 322.4 109.8 317.8 110.1 322.1 110.4 318.1 110.7 321.9 111 317.7 111.3 321.9 111.6 318.2 111.9 322.7 112.2 318.1 112.5 322.8 112.8 317.7 113.1 322 113.4 317.3 113.7 322.7 114 318.2 114.3 321.7 114.6 317.8 114.9 322.5 115.2 317.9 115.5 322.3 115.8 318.2 116.1 322.1 116.4 318.3 116.7 321.8 117 318.3 117.3 321.7 117.6 318.3 117.9 322.2 118.2 318.5 118.5 321.5 118.8 318.5 119.1 322.3 119.4 318.3 119.7 321.4 120 317.9 120.3 322.1 120.6 318.1 120.9 321.4 121.2 318.3 121.5 321.3 121.8 318.8 122.1 321.7 122.4 318.3 122.7 321.1 123 318.4 123.3 321 123.6 318.9 123.9 320.9 124.2 319.1 124.5 320.9 124.8 318.8 125.1 320.9 125.4 319.2 125.7 320.8 126 319.2 126.3 321.1 126.6 319 126.9 320.7 127.2 319 127.5 320.9 127.8 319.1 128.1 320.9 128.4 319 128.7 321.1 129 319.1 129.3 321 129.6 319.1 129.9 321 130.2 319.2 130.5 320.9 130.8 319.1 131.1 321 131.4 319.2 131.7 321.2 132 319.1 132.3 321.1 132.6 319 132.9 321.2 133.2 319 133.5 320.9 133.8 319.2 134.1 321 134.4 318.9 134.7 321.1 135 319.3 135.3 320.7 135.6 319.3 135.9 320.7 136.2 319.3 136.5 320.7 136.8 319.2 137.1 320.7 137.4 319 137.7 321 138 318.8 138.3 321.2 138.6 318.9 138.9 321.2 139.2 319.3 139.5 320.8 139.8 318.8 140.1 320.9 140.4 319.2 140.7 321.8 140.8 313.2 141 326 141.2 315.9 141.3 323 141.3 322.6 141.6 317.8 141.9 322.2 142.2 318 142.5 322.7 142.8 316.7 143.1 323.4 143.4 317.1 143.7 323.3 144 317.7 144.3 322.2 144.6 316.8 144.9 322.6 145.2 317.3 145.5 321.9 145.7 313.5 145.8 326 146 316.1 146.1 323 146.1 322.4 146.4 317.2 146.7 322.9 147 317.2 147.3 322.2 147.6 317.8 147.9 323 148.2 316.8 148.5 322.3 148.8 318 149.1 322.5 149.4 317.6 149.7 322.1 150 318 150.3 322.1 150.6 317.6 150.9 321.9 151.2 317.7 151.5 323 151.8 317.4 152.1 321.9 152.4 317.9 152.7 321.8 153 317.5 153.3 322.3 153.6 318.2 153.9 322.2 154.2 317.7 154.5 322.2 154.8 318.1 155.1 321.9 155.4 318.1 155.7 322.9 156 318.2 156.3 322 156.6 318 156.9 321.7 157.2 318.1 157.5 321.7 157.8 318.2 158.1 321.8 158.4 318.2 158.7 322.6 159 318.3 159.3 321.7 159.6 317.9 159.9 321.8 160.2 318.1 160.5 322 160.8 318.6 161.1 321.9 161.4 318.6 161.7 321.4 162 318 162.3 322.2 162.6 318.3 162.9 321.3 163.2 318.6 163.5 321.3 163.8 318.3 164.1 321.2 164.4 318.9 164.7 321.4 165 318.6 165.3 321.3 165.6 318.9 165.9 321.5 166.2 318.9 166.5 321.4 166.8 319 167.1 321 167.4 319.1 167.7 321 168 318.9 168.3 320.8 168.6 319.1 168.9 321 169.2 319.1 169.5 321 169.8 319 170.1 321 170.4 319.2 170.7 320.8 171 319.3 171.3 321.2 171.6 318.9 171.9 320.8 172.2 318.8 172.5 321.2 172.8 319.2 173.1 321.1 173.4 319.1 173.7 320.8 174 319.2 174.3 320.9 174.6 319.3 174.9 320.7 175.2 319.3 175.5 320.8 175.8 319.2 176.1 320.7 176.4 318.9 176.7 320.8 177 319.1 177.3 321 177.6 318.8 177.9 320.7 178.2 319.2 178.5 321.1 178.8 318.8 179.1 321.2 179.4 319.1 179.7 320.8 180 319.2 180.3 321.2 180.6 318.9 180.9 320.9 181.2 318.9 181.5 320.8 181.8 319.1 182.1 321.2 182.4 319.3 182.7 321 183 319.2 183.3 321.1 183.6 318.9 183.9 321 184.2 319.1 184.5 320.7 184.8 319.1" fill="none" stroke="#000" stroke-width="0.8" stroke-linejoin="round"/>
<path d="M44.8 344.8 C46.0 344.4 49.6 343.2 52.0 342.6 C54.4 342.0 56.9 341.7 59.1 340.9 C61.3 340.1 63.3 338.5 65.4 337.7 C67.6 336.9 70.0 336.7 72.0 336.0 C74.0 335.3 75.1 333.1 77.4 333.7 C79.7 334.3 83.0 337.5 86.0 339.5 C89.0 341.5 92.3 345.6 95.5 345.6 C98.7 345.6 101.8 341.5 105.0 339.5 C108.2 337.5 111.5 333.7 115.0 333.8 C118.5 333.9 122.2 338.0 126.0 340.0 C129.8 342.0 134.1 345.9 137.5 346.0 C140.9 346.1 143.8 342.3 146.6 340.9 C149.4 339.5 151.3 338.5 154.5 337.7 C157.7 336.9 162.2 335.6 165.6 336.1 C169.0 336.6 171.8 338.9 175.0 340.5 C178.2 342.1 183.1 344.8 184.7 345.6" fill="none" stroke="#444" stroke-width="1.2"/>
<path d="M41.4 358.7 41.7 357.3 42 358.9 42.3 357.2 42.6 358.7 42.9 357.5 43.2 358.7 43.5 357.5 43.8 358.9 44.1 357.5 44.4 358.8 44.7 357.5 45 358.7 45.3 357.4 45.6 359 45.9 357.4 46.2 358.7 46.5 357.5 46.8 358.7 47.1 357.2 47.4 358.9 47.7 357.3 48 359 48.3 357.3 48.6 359 48.9 357.3 49.2 358.7 49.5 357.2 49.8 358.8 50.1 357.3 50.4 358.8 50.7 357.4 51 358.7 51.3 357.4 51.6 358.7 51.9 357.5 52.2 358.9 52.5 357.3 52.8 359 53.1 357.3 53.4 358.8 53.7 357.3 54 358.7 54.3 357.3 54.6 358.8 54.9 357.5 55.2 358.7 55.5 357.4 55.8 358.7 56.1 357.4 56.4 359.1 56.7 357 57 358.9 57.3 357.4 57.6 358.7 57.9 357.5 58.2 358.7 58.5 357.5 58.8 358.7 59.1 357.3 59.4 359 59.7 357.4 60 358.9 60.3 357.2 60.6 358.7 60.9 357.5 61.2 359.1 61.5 356.3 61.8 354.9 61.9 361.1 62 356.2 62.2 359.6 62.1 356.5 62.4 359.3 62.7 357.2 63 359 63.3 357.3 63.6 358.7 63.9 357.2 64.2 358.7 64.5 357.3 64.8 358.7 65.1 357.2 65.4 358.8 65.7 357.3 66 358.7 66.3 357.4 66.6 358.8 66.9 357.4 67.2 358.7 67.5 357.3 67.8 358.7 68.1 357.5 68.4 358.7 68.7 357.3 69 358.7 69.3 357.5 69.6 358.7 69.9 357.3 70.2 358.8 70.5 357.4 70.8 358.7 71.1 357.4 71.4 358.7 71.7 357.5 72 358.7 72.3 357.2 72.6 358.7 72.9 357.5 73.2 359.1 73.5 356.4 73.8 359 74.1 357.4 74.4 358.7 74.7 357.2 75 358.7 75.3 357.5 75.6 358.8 75.9 357.2 76.2 358.8 76.5 357.4 76.8 358.9 77.1 357.5 77.4 358.7 77.7 357.4 78 359 78.3 357.3 78.6 358.7 78.9 357.3 79.2 359 79.5 357.5 79.8 358.8 80.1 357.5 80.4 358.7 80.7 357.5 81 358.7 81.3 357.5 81.6 358.7 81.9 357.4 82.2 358.7 82.5 357.3 82.8 358.8 83.1 357.5 83.4 358.9 83.7 357.5 84 358.8 84.3 357.4 84.6 358.7 84.9 357.5 85.2 358.8 85.5 357.5 85.8 359 86.1 357.5 86.4 358.9 86.7 357.5 87 358.7 87.3 357.4 87.6 358.7 87.9 357.5 88.2 358.7 88.5 357.4 88.8 359 89.1 357.2 89.4 358.7 89.7 357.4 90 358.7 90.3 357.3 90.6 358.7 90.9 357.2 91.2 358.8 91.5 357.5 91.8 358.7 92.1 357.5 92.4 359 92.7 357.5 93 358.8 93.3 357.5 93.6 358.7 93.9 357.3 94.2 358.7 94.5 357.3 94.8 358.9 95.1 357.2 95.4 358.8 95.7 357.2 96 358.8 96.3 357.4 96.6 358.8 96.9 357.2 97.2 359 97.5 357.5 97.8 358.7 98.1 357.4 98.4 358.9 98.7 357.4 99 358.7 99.3 357.2 99.6 358.7 99.9 357.5 100.2 358.7 100.5 357.5 100.8 358.9 101.1 357.5 101.4 358.9 101.7 357.2 102 359 102.3 357.3 102.6 358.8 102.9 357.4 103.2 359 103.5 357.3 103.8 358.7 104.1 357.3 104.4 358.7 104.7 357.5 105 359 105.3 357.4 105.6 358.7 105.9 357.3 106.2 358.8 106.5 357.5 106.8 358.7 107.1 357.5 107.4 358.7 107.7 357.2 108 358.7 108.3 357.2 108.6 359 108.9 357.4 109.2 359 109.5 357.3 109.8 358.8 110.1 357.5 110.4 358.8 110.7 357.2 111 359 111.3 357.2 111.6 359.2 111.9 356.7 112.2 359.5 112.5 356.3 112.8 359.7 113.1 355.6 113.4 359.8 113.7 356.6 114 360 114.3 356.6 114.6 360.1 114.9 356.6 115.2 359.5 115.5 356.5 115.8 359.2 116.1 356.8 116.4 359.3 116.7 357.2 117 359.3 117.3 357.5 117.6 359 117.9 357.5 118.2 359 118.5 357.5 118.8 358.7 119.1 357.4 119.4 359 119.7 357.5 120 358.8 120.3 357.4 120.6 358.7 120.9 357.4 121.2 358.7 121.5 357.4 121.8 358.9 122.1 357.5 122.4 358.7 122.7 357.5 123 358.9 123.3 357.4 123.6 359 123.9 357.3 124.2 358.7 124.5 357.2 124.8 359 125.1 356.7 125.4 359.5 125.7 357.3 126 358.9 126.3 357.3 126.6 358.8 126.9 357.5 127.2 358.7 127.5 357.3 127.8 358.8 128.1 357.5 128.4 358.9 128.7 357.4 129 358.8 129.3 357.3 129.6 359 129.9 357.4 130.2 358.9 130.5 357.4 130.8 358.8 131.1 357.4 131.4 359 131.7 357.4 132 359 132.3 357.5 132.6 358.9 132.9 357.2 133.2 358.9 133.5 357.5 133.8 358.7 134.1 357.4 134.4 358.8 134.7 357.3 135 358.9 135.3 357.2 135.6 358.8 135.9 357.4 136.2 358.8 136.5 357.3 136.8 358.7 137.1 357.5 137.4 358.7 137.7 357.5 138 358.7 138.3 357.2 138.6 358.7 138.9 357.2 139.2 358.7 139.5 357.5 139.8 359 140.1 357.5 140.4 358.7 140.7 357.5 141 358.7 141.3 357.4 141.6 358.7 141.9 357.5 142.2 358.7 142.5 357.3 142.8 358.7 143.1 357.5 143.4 358.8 143.7 357.2 144 358.9 144.3 357.3 144.6 358.9 144.9 357.3 145.2 359 145.5 357.5 145.8 358.7 146.1 357.4 146.4 358.8 146.7 357.4 147 358.9 147.3 357.5 147.6 358.9 147.9 357.4 148.2 358.8 148.5 357.5 148.8 358.7 149.1 357.4 149.4 358.8 149.7 357.2 150 358.7 150.3 357.3 150.6 358.7 150.9 357.3 151.2 358.7 151.5 357.2 151.8 359 152.1 357.5 152.4 358.9 152.7 357.4 153 359.2 153.3 357.4 153.6 358.8 153.9 357.5 154.2 358.9 154.5 357.4 154.8 358.8 155.1 357.3 155.4 358.7 155.7 357.5 156 358.7 156.3 357.5 156.6 359 156.9 357.5 157.2 358.7 157.5 357.3 157.8 358.9 158.1 357.4 158.4 358.8 158.7 357.5 159 358.7 159.3 357.4 159.6 358.7 159.9 357.5 160.2 359 160.5 357.5 160.8 358.7 161.1 357.3 161.4 358.9 161.7 357.5 162 358.9 162.3 357.4 162.6 358.9 162.9 357.2 163.2 358.9 163.5 357.4 163.8 358.9 164.1 357.2 164.4 359.5 164.7 355.9 164.8 353.6 165 362.1 165.2 355.4 165.3 360.1 165.3 355.5 165.6 360.6 165.9 354.8 166.2 360.5 166.5 355.8 166.8 360.1 167.1 356.1 167.4 359.8 167.7 356.2 168 359.5 168.3 356.9 168.6 359.2 168.9 357.4 169.2 358.8 169.5 357.3 169.8 358.9 170.1 357.3 170.4 359 170.7 357.4 171 358.8 171.3 357.5 171.6 358.7 171.9 357.4 172.2 358.8 172.5 357.2 172.8 358.7 173.1 357.5 173.4 358.9 173.7 357.4 174 359 174.3 357.5 174.6 358.9 174.9 357.4 175.2 358.8 175.5 357.5 175.8 358.8 176.1 357.3 176.4 358.9 176.7 357.4 177 358.8 177.3 357.5 177.6 358.9 177.9 357.4 178.2 358.9 178.5 357.4 178.8 358.8 179.1 357.2 179.4 358.7 179.7 357.2 180 358.7 180.3 357.2 180.6 358.8 180.9 357.4 181.2 359 181.5 357.4 181.8 358.8 182.1 357.5 182.4 358.9 182.7 357.3 183 358.7" fill="none" stroke="#000" stroke-width="0.8" stroke-linejoin="round"/>
<path d="M41.4 376.2 41.7 374.5 42 376.5 42.3 374.3 42.6 376.3 42.9 374.7 43.2 376.5 43.5 374.5 43.8 376.3 44.1 374.5 44.4 376.3 44.7 374.5 45 376.2 45.3 374.8 45.6 376.6 45.9 374.7 46.2 376.3 46.5 374.4 46.8 376.4 47.1 374.8 47.4 376.4 47.7 374.5 48 376.3 48.3 374.4 48.6 376.4 48.9 374.5 49.2 376.5 49.5 374.4 49.8 377.3 50.1 374.2 50.4 377.5 50.7 374.1 51 377.2 51.3 373.4 51.6 377.4 51.9 374.1 52.2 377.4 52.5 373.5 52.8 377.1 53.1 373.9 53.4 378.1 53.7 373.4 54 377.3 54.3 373.4 54.6 377.4 54.9 372.7 55.2 377.9 55.5 373.5 55.8 371.3 55.9 379 56 373 56.2 377.2 56.1 373.5 56.4 377.5 56.7 373.8 57 377.8 57.3 374 57.6 377.2 57.9 374.2 58.2 376.9 58.5 374.1 58.8 376.6 59.1 374.6 59.4 376.4 59.7 374.7 60 376.4 60.3 374.8 60.6 376.3 60.9 374.8 61.2 376.6 61.5 374.3 61.8 376.2 62.1 374.8 62.4 376.5 62.7 374.6 63 376.2 63.3 374.5 63.6 376.7 63.9 374.7 64.2 376.3 64.5 374.6 64.8 376.7 65.1 374.7 65.4 376.3 65.7 374.8 66 376.4 66.3 374.7 66.6 376.3 66.9 374.7 67.2 376.2 67.5 374.4 67.8 377.6 68.1 374.3 68.4 376.3 68.7 374.4 69 376.3 69.3 374.7 69.6 376.2 69.9 374.8 70.2 376.2 70.5 374.8 70.8 376.6 71.1 374.7 71.4 376.3 71.7 374.6 72 376.6 72.3 374.7 72.6 376.5 72.9 374.7 73.2 376.6 73.5 373.8 73.8 377 74.1 374.5 74.4 376.4 74.7 374.4 75 376.3 75.3 374.7 75.6 376.7 75.9 374.6 76.2 376.5 76.5 374.7 76.8 376.6 77.1 374.6 77.4 376.2 77.7 374.4 78 376.3 78.3 374.7 78.6 376.3 78.9 374.8 79.2 376.2 79.5 374.5 79.8 376.2 80.1 374.7 80.4 376.3 80.7 374.6 81 376.3 81.3 374.5 81.6 376.3 81.9 374.7 82.2 376.3 82.5 374.8 82.8 376.2 83.1 374.8 83.4 376.5 83.7 374.8 84 376.5 84.3 374.8 84.6 376.4 84.9 374.5 85.2 376.3 85.5 374.4 85.8 376.5 86.1 374.6 86.4 376.2 86.7 374.7 87 376.3 87.3 374.7 87.6 376.6 87.9 374.4 88.2 376.2 88.5 374.5 88.8 376.6 89.1 374.6 89.4 376.2 89.7 374.4 90 376.3 90.3 374.3 90.6 376.6 90.9 374.4 91.2 376.6 91.5 374.8 91.8 376.5 92.1 374.7 92.4 376.2 92.7 374.7 93 376.4 93.3 374.8 93.6 376.3 93.9 374.5 94.2 376.4 94.5 374.6 94.8 376.3 95.1 374.3 95.4 376.3 95.7 374.5 96 376.4 96.3 374.8 96.6 376.7 96.9 374.8 97.2 376.7 97.5 374.4 97.8 376.6 98.1 374.4 98.4 376.3 98.7 374.7 99 376.3 99.3 374.4 99.6 376.2 99.9 374.8 100.2 376.7 100.5 374.4 100.8 376.5 101.1 374.3 101.4 376.4 101.7 374.4 102 376.3 102.3 374.4 102.6 376.2 102.9 374.7 103.2 376.4 103.5 374.5 103.8 376.3 104.1 374.5 104.4 376.7 104.7 374.7 105 376.2 105.3 374.8 105.6 376.6 105.9 374.7 106.2 376.3 106.5 374.6 106.8 376.2 107.1 374.8 107.4 376.2 107.7 374.7 108 376.6 108.3 374.8 108.6 376.2 108.9 374.4 109.2 376.4 109.5 374.8 109.8 376.5 110.1 374.5 110.4 376.4 110.7 374.5 111 376.3 111.3 374.8 111.6 376.6 111.9 374.4 112.2 376.8 112.5 374.4 112.8 376.8 113.1 373.8 113.4 377 113.7 373.5 113.8 373 113.9 381.1 114.1 374 114.2 378.3 114.3 373.2 114.3 373 114.5 380.5 114.7 374 114.8 378 114.9 373.4 115.2 378.1 115.5 373.7 115.8 377.1 116.1 373.5 116.4 377 116.7 373.4 117 376.9 117.3 373.5 117.6 377 117.9 374.4 118.2 376.8 118.5 374.1 118.8 376.6 119.1 374.4 119.4 376.4 119.7 374.3 120 376.2 120.3 374.5 120.6 376.2 120.9 374.6 121.2 376.2 121.5 374.8 121.8 376.4 122.1 374.4 122.4 376.3 122.7 374.7 123 376.3 123.3 374.6 123.6 376.3 123.9 374.7 124.2 376.6 124.5 374.6 124.8 376.3 125.1 374.4 125.4 376.7 125.7 374.7 126 376.2 126.3 374.7 126.6 376.6 126.9 374.8 127.2 376.2 127.5 374.5 127.8 376.2 128.1 374.4 128.4 376.2 128.7 374.7 129 376.4 129.3 374.8 129.6 376.5 129.9 374.7 130.2 376.5 130.5 374.5 130.8 376.2 131.1 374.4 131.4 376.6 131.7 374.8 132 376.4 132.3 374.8 132.6 376.4 132.9 374.5 133.2 376.3 133.5 374.6 133.8 376.2 134.1 374.4 134.4 376.4 134.7 374.4 135 376.2 135.3 374.5 135.6 376.2 135.9 374.6 136.2 376.2 136.5 374.4 136.8 376.2 137.1 374.7 137.4 376.3 137.7 374.6 138 376.5 138.3 373.9 138.6 377.8 138.9 374 139.2 377.4 139.5 374.4 139.8 376.3 140.1 374.7 140.4 376.7 140.7 374.5 141 376.4 141.3 374.8 141.6 376.3 141.9 374.8 142.2 376.2 142.5 374.7 142.8 376.2 143.1 374.8 143.4 376.4 143.7 374.5 144 376.6 144.3 374.4 144.6 376.3 144.9 374.8 145.2 376.7 145.5 374.7 145.8 376.3 146.1 374.4 146.4 376.4 146.7 374.3 147 376.5 147.3 374.3 147.6 376.2 147.9 374.3 148.2 376.4 148.5 374.5 148.8 376.3 149.1 374.8 149.4 376.3 149.7 374.8 150 376.7 150.3 374.8 150.6 376.2 150.9 374.6 151.2 376.2 151.5 374.8 151.8 376.3 152.1 374.8 152.4 376.2 152.7 374.5 153 376.5 153.3 374.7 153.6 376.6 153.9 374.6 154.2 376.2 154.5 374.3 154.8 376.2 155.1 374.4 155.4 376.6 155.7 374.8 156 376.6 156.3 374.7 156.6 376.4 156.9 374.3 157.2 376.3 157.5 374.8 157.8 376.2 158.1 374.4 158.4 376.3 158.7 374.5 159 376.4 159.3 374.3 159.6 376.6 159.9 374.4 160.2 376.4 160.5 374.4 160.8 376.3 161.1 374.8 161.4 376.4 161.7 374.8 162 376.7 162.3 374.7 162.6 376.3 162.9 374.7 163.2 376.3 163.5 374.6 163.8 376.5 164.1 374.8 164.4 376.3 164.7 374.8 165 376.7 165.3 374.4 165.6 377 165.9 373.4 166.2 376.6 166.5 374.7 166.8 376.3 167.1 374.8 167.4 376.5 167.7 374.7 168 376.4 168.3 374.6 168.6 376.5 168.9 374.5 169.2 376.4 169.5 374.3 169.8 376.7 170.1 374.3 170.4 376.5 170.7 374.7 171 376.3 171.3 374.4 171.6 376.3 171.9 374.5 172.2 376.3 172.5 374.7 172.8 376.2 173.1 374.5 173.4 376.3 173.7 374.6 174 376.5 174.3 374.4 174.6 376.7 174.9 374.5 175.2 376.2 175.5 374.4 175.8 376.2 176.1 374.7 176.4 376.6 176.7 374.4 177 376.4 177.3 374.4 177.6 376.2 177.9 374.6 178.2 376.7 178.5 373.5 178.8 376.9 179.1 373.7 179.4 377.7 179.7 373.4 180 378.9 180.3 373.1 180.6 378.1 180.9 370.8 181.2 378 181.5 373.2 181.8 377.6 182.1 373.3 182.4 376.6 182.7 374.6 183 376.6" fill="none" stroke="#000" stroke-width="0.8" stroke-linejoin="round"/>
<path d="M40.8 391.3 C41.8 392.2 44.6 394.9 46.5 396.5 C48.4 398.1 50.4 401.2 51.9 400.6 C53.4 400.0 54.3 395.1 55.5 393.0 C56.7 390.9 57.7 388.4 59.1 388.2 C60.5 388.0 62.2 392.4 63.8 391.7 C65.4 391.0 67.1 384.8 68.6 384.2 C70.1 383.6 71.4 386.0 73.0 388.0 C74.6 390.0 75.5 394.4 78.2 396.1 C80.9 397.9 85.1 398.6 89.3 398.5 C93.5 398.4 99.8 397.2 103.6 395.3 C107.4 393.4 110.0 387.5 112.3 387.4 C114.6 387.3 115.2 393.4 117.2 394.5 C119.2 395.6 121.8 393.8 124.3 394.2 C126.8 394.6 129.4 397.1 132.3 396.9 C135.2 396.7 138.6 393.6 141.8 392.9 C145.0 392.2 148.7 393.2 151.3 392.6 C154.0 392.0 155.3 388.8 157.7 389.4 C160.1 390.0 163.3 395.0 165.6 396.1 C167.8 397.2 169.3 396.6 171.2 396.1 C173.1 395.6 175.0 392.7 176.8 393.2 C178.7 393.7 181.4 398.3 182.3 399.3" fill="none" stroke="#8a8a8a" stroke-width="1.0"/>
<line x1="44.4" y1="403.6" x2="65.8" y2="403.6" stroke="#333" stroke-width="1.2"/>
<text x="49.5" y="411.1" font-size="7.2" fill="#333" font-weight="bold" letter-spacing="0.7">2s</text>
<rect x="68.6" y="432.5" width="18.3" height="45.8" fill="#f1f1f1"/>
<rect x="102.2" y="432.5" width="24.6" height="45.8" fill="#f1f1f1"/>
<rect x="142.2" y="432.5" width="24.5" height="45.8" fill="#f1f1f1"/>
<text x="101.9" y="432.9" font-size="9.3" fill="#333">4 mo</text>
<text x="24.8" y="439.4" font-size="9.3" fill="#2a2a2a" stroke="#2a2a2a" stroke-width="0.15" textLength="10.6" lengthAdjust="spacingAndGlyphs">RF</text>
<text x="35.6" y="441" font-size="5.8" fill="#2a2a2a">L</text>
<text x="25.8" y="456" font-size="9.3" fill="#2a2a2a" stroke="#2a2a2a" stroke-width="0.15" textLength="9.6" lengthAdjust="spacingAndGlyphs">BF</text>
<text x="35.6" y="457.6" font-size="5.8" fill="#2a2a2a">L</text>
<text x="15.4" y="474" font-size="8.9" fill="#2a2a2a" stroke="#2a2a2a" stroke-width="0.15" textLength="18.9" lengthAdjust="spacingAndGlyphs">thigh</text>
<text x="34.5" y="475.6" font-size="5.8" fill="#2a2a2a">L</text>
<text x="24.2" y="492.4" font-size="9.3" fill="#2a2a2a" stroke="#2a2a2a" stroke-width="0.15" textLength="10.6" lengthAdjust="spacingAndGlyphs">RF</text>
<text x="35" y="494" font-size="5.8" fill="#2a2a2a">R</text>
<text x="24.8" y="511.7" font-size="9.3" fill="#2a2a2a" stroke="#2a2a2a" stroke-width="0.15" textLength="9.6" lengthAdjust="spacingAndGlyphs">BF</text>
<text x="34.6" y="513.3" font-size="5.8" fill="#2a2a2a">R</text>
<text x="14.2" y="528.2" font-size="8.9" fill="#2a2a2a" stroke="#2a2a2a" stroke-width="0.15" textLength="18.9" lengthAdjust="spacingAndGlyphs">thigh</text>
<text x="33.3" y="529.8" font-size="5.8" fill="#2a2a2a">R</text>
<path d="M42.3 436.3 42.6 435.2 42.9 436.4 43.2 435.3 43.5 436.3 43.8 435.1 44.1 436.5 44.4 435.2 44.7 436.4 45 435.3 45.3 436.3 45.6 435.3 45.9 436.4 46.2 435.3 46.5 436.5 46.8 435.3 47.1 436.3 47.4 435.3 47.7 436.5 48 435.2 48.3 436.5 48.6 435.2 48.9 436.3 49.2 435.3 49.5 436.3 49.8 435.3 50.1 436.5 50.4 435.3 50.7 436.3 51 435.1 51.3 436.3 51.6 435.1 51.9 436.3 52.2 435.2 52.5 436.3 52.8 435.3 53.1 436.3 53.4 435.3 53.7 436.5 54 435.3 54.3 436.5 54.6 435.3 54.9 436.5 55.2 435.1 55.5 436.4 55.8 435.2 56.1 436.4 56.4 435.2 56.7 436.3 57 435.3 57.3 436.5 57.6 435.3 57.9 436.5 58.2 435.1 58.5 436.3 58.8 435.3 59.1 436.3 59.4 435.3 59.7 436.5 60 435.3 60.3 436.3 60.6 435.3 60.9 436.4 61.2 435.1 61.5 436.3 61.8 435.3 62.1 436.4 62.4 435.2 62.7 436.4 63 434.8 63.3 436.5 63.6 435.2 63.9 436.3 64.2 435.3 64.5 436.3 64.8 435.1 65.1 436.3 65.4 435.2 65.7 436.3 66 435.3 66.3 436.3 66.6 435.1 66.9 436.5 67.2 435.3 67.5 436.4 67.8 435.2 68.1 436.5 68.4 435.1 68.7 436.3 69 435.1 69.3 436.5 69.6 435.2 69.9 436.5 70.2 435.3 70.5 436.3 70.8 435.3 71.1 436.5 71.4 435.3 71.7 436.3 72 435.1 72.3 436.4 72.6 435.3 72.9 436.5 73.2 435.3 73.5 436.3 73.8 435.3 74.1 436.3 74.4 435.3 74.7 436.3 75 435.3 75.3 436.5 75.6 435.1 75.9 436.4 76.2 435.3 76.5 436.3 76.8 435.1 77.1 436.4 77.4 435.2 77.7 436.3 78 435.3 78.3 436.5 78.6 435.1 78.9 436.5 79.2 435.2 79.5 436.3 79.8 435.2 80.1 436.5 80.4 435.3 80.7 436.4 81 435.3 81.3 436.4 81.6 435.3 81.9 436.4 82.2 435.1 82.5 436.3 82.8 435.2 83.1 436.4 83.4 435.1 83.7 436.4 84 435.3 84.3 436.3 84.6 434.8 84.9 436.8 85.2 435.3 85.5 436.3 85.8 435.3 86.1 436.3 86.4 435.3 86.7 436.3 87 435.1 87.3 436.4 87.6 435.3 87.9 436.4 88.2 435.3 88.5 436.3 88.8 435.3 89.1 436.3 89.4 435.3 89.7 436.3 90 435.2 90.3 436.4 90.6 435.3 90.9 436.6 91.2 435.1 91.5 436.4 91.8 435.1 92.1 436.3 92.4 435.3 92.7 436.3 93 435.2 93.3 436.3 93.6 435.2 93.9 436.3 94.2 435.2 94.5 436.3 94.8 435.3 95.1 436.3 95.4 435.3 95.7 436.5 96 435.3 96.3 436.3 96.6 435.1 96.9 436.5 97.2 435.3 97.5 436.4 97.8 435.2 98.1 436.4 98.4 435.1 98.7 436.3 99 435.2 99.3 436.4 99.6 435.2 99.9 436.3 100.2 435.1 100.5 436.5 100.8 435.3 101.1 436.3 101.4 435.1 101.7 436.3 102 435.3 102.3 436.3 102.6 435.1 102.9 436.4 103.2 434.9 103.2 433.8 103.4 438.3 103.6 434.6 103.7 437.1 103.8 435.3 104.1 436.4 104.4 435.3 104.7 436.4 105 435.3 105.3 436.3 105.6 435.3 105.9 436.3 106.2 435.3 106.5 436.3 106.8 435.2 107.1 436.5 107.4 435.2 107.7 436.3 108 435.3 108.3 436.3 108.6 435.3 108.9 436.4 109.2 435.1 109.5 436.3 109.8 435.3 110.1 436.3 110.4 435.2 110.7 436.5 111 435.1 111.3 436.4 111.6 435.2 111.9 436.4 112.2 435.1 112.5 436.4 112.8 435.2 113.1 436.3 113.4 435.1 113.7 436.3 114 435.2 114.3 436.5 114.6 435.1 114.9 436.5 115.2 435.3 115.5 436.3 115.8 435.3 116.1 436.3 116.4 435.3 116.7 436.4 117 435.3 117.3 436.3 117.6 435.1 117.9 436.4 118.2 435.3 118.5 436.3 118.8 435.1 119.1 436.4 119.4 435.3 119.7 436.3 120 435.2 120.3 436.4 120.6 435.3 120.9 436.5 121.2 435.3 121.5 436.3 121.8 435.1 122.1 436.3 122.4 435.2 122.7 436.3 123 435.2 123.3 436.3 123.6 435.3 123.9 436.5 124.2 435.3 124.5 436.3 124.8 435.2 125.1 436.3 125.4 435.3 125.7 436.3 126 435.3 126.3 436.3 126.6 435.1 126.9 436.3 127.2 435.1 127.5 436.5 127.8 435.2 128.1 436.3 128.4 435.3 128.7 436.3 129 435.2 129.3 436.4 129.6 435.3 129.9 436.3 130.2 435.2 130.5 436.3 130.8 435.3 131.1 436.3 131.4 435.1 131.7 436.3 132 435.3 132.3 436.5 132.6 435.1 132.9 436.4 133.2 435.3 133.5 436.3 133.8 435.3 134.1 436.4 134.4 435.3 134.7 436.5 135 435.1 135.3 436.5 135.6 435.1 135.9 436.3 136.2 435.2 136.5 436.3 136.8 435.1 137.1 436.4 137.4 435.2 137.7 436.3 138 435.3 138.3 436.5 138.6 435.2 138.9 436.4 139.2 435.3 139.5 436.5 139.8 435.3 140.1 436.3 140.4 435.3 140.7 436.3 141 435.2 141.3 436.5 141.6 435.3 141.9 436.3 142.2 435.2 142.5 436.4 142.8 435.3 143.1 436.3 143.4 435.3 143.7 436.3 144 435.3 144.3 436.4 144.6 435.2 144.9 436.3 145.2 435.3 145.5 436.5 145.8 435.2 146.1 436.3 146.4 435.2 146.7 436.4 147 435.2 147.3 436.3 147.6 435.1 147.9 436.3 148.2 435.3 148.5 436.3 148.8 435.2 149.1 436.4 149.4 435.3 149.7 436.4 150 435.3 150.3 436.3 150.6 435.1 150.9 436.5 151.2 435.1 151.5 436.4 151.8 435.3 152.1 436.5 152.4 435.1 152.7 436.4 153 435.1 153.3 436.5 153.6 435.3 153.9 436.5 154.2 435.1 154.5 436.5 154.8 435.3 155.1 436.3 155.4 435.2 155.7 436.4 156 435.2 156.3 436.4 156.6 435.3 156.9 436.5 157.2 435.2 157.5 436.5 157.8 435.3 158.1 436.5 158.4 435.2 158.7 436.4 159 435.2 159.3 436.5 159.6 435.3 159.9 436.3 160.2 435.3 160.5 436.3 160.8 435.2 161.1 436.5 161.4 435.3 161.7 436.3 162 435.3 162.3 436.3 162.6 435.2 162.9 436.3 163.2 435.2 163.5 436.3 163.8 435.3 164.1 436.5 164.4 435.2 164.7 436.5 165 435.2 165.3 436.3 165.6 435.3 165.9 436.3 166.2 435.2 166.5 436.4 166.8 435.2 167.1 436.4 167.4 435.3 167.7 436.3 168 435.3 168.3 436.3 168.6 435.3 168.9 436.4 169.2 435.3 169.5 436.3 169.8 435.1 170.1 436.4 170.4 435.1 170.7 436.4 171 435.2 171.3 436.5 171.6 435.3 171.9 436.3 172.2 435.3 172.5 436.4 172.8 435.2 173.1 436.4 173.4 435.1 173.7 436.3 174 435.3 174.3 436.4 174.6 435.1 174.9 436.3 175.2 435.3 175.5 436.3 175.8 435.1 176.1 436.3 176.4 435.3 176.7 436.3 177 435.2 177.3 436.4 177.6 435.2 177.9 436.5 178.2 435.2 178.5 436.3 178.8 435.3 179.1 436.5 179.4 435.1 179.7 436.5 180 435.3 180.3 436.5 180.6 435.1 180.9 436.3 181.2 435.3 181.5 436.4 181.8 435.3 182.1 436.5 182.4 435.3 182.7 436.4 183 435.3 183.3 436.3 183.6 435.3 183.9 436.3 184.2 435.2 184.5 436.3 184.8 435.2 185.1 436.3 185.4 435.2 185.7 436.3 186 435.3 186.3 436.3 186.6 435.3 186.9 436.4" fill="none" stroke="#000" stroke-width="0.8" stroke-linejoin="round"/>
<path d="M42.3 454.2 42.6 449 42.9 453 43.2 447.7 43.5 453.1 43.8 449 44.1 453.6 44.4 448.8 44.7 454.1 45 448.9 45.3 454.2 45.6 448.8 45.9 453.6 46.2 447.9 46.5 453.7 46.8 447.9 47.1 453.7 47.4 449 47.7 454 48 448.5 48.3 453.2 48.6 448.9 48.9 454 49.2 448.5 49.5 454.1 49.8 448.2 50.1 454.2 50.4 448.5 50.7 453.7 51 448.4 51.3 453.1 51.6 447.8 51.9 453.2 52.2 448.2 52.5 454.2 52.8 448.4 53.1 453 53.4 448.1 53.7 453.6 54 449 54.3 453 54.6 448.6 54.9 453 55.2 447.9 55.5 453.4 55.8 448.6 56.1 453.3 56.4 448.4 56.7 454.1 57 448.9 57.3 453.2 57.6 448.5 57.9 453.1 58.2 448.5 58.5 453.4 58.8 448.7 59.1 453.6 59.4 448.6 59.7 453 60 447.8 60.3 453.2 60.6 448.7 60.9 453.2 61.2 447.9 61.5 454.1 61.8 448.6 62.1 453.2 62.4 449 62.7 454 63 449 63.3 453.4 63.6 448.8 63.9 453.1 64.2 448.8 64.5 453 64.8 449.2 65.1 453 65.4 449 65.7 452.6 66 449.9 66.3 452.5 66.6 449.9 66.9 452.3 67.2 449.4 67.5 452.7 67.8 449.7 68.1 452.6 68.4 449.7 68.7 452.3 69 449.6 69.3 452.8 69.6 449.5 69.9 452.3 70.2 449.5 70.5 452.4 70.8 449.8 71.1 452.6 71.4 449.4 71.7 452.4 72 449.3 72.3 452.1 72.6 449.7 72.9 452.4 73.2 449.8 73.5 452.1 73.8 449.5 74.1 452.3 74.4 449.8 74.7 452.1 75 449.2 75.3 452.2 75.6 449.9 75.9 452.1 76.2 449.8 76.5 452.7 76.8 449.9 77.1 452.2 77.4 449.9 77.7 452.3 78 449.9 78.3 452.2 78.6 449.5 78.9 452.7 79.2 449.4 79.5 452.1 79.8 449.8 80.1 452.6 80.4 449.9 80.7 452.1 81 449.7 81.3 452.3 81.6 449.1 81.9 453.1 82.2 449 82.5 453 82.8 448.9 83.1 453.4 83.4 448.6 83.7 454.4 84 448.2 84.3 455.4 84.6 447.1 84.9 454 85.2 447.2 85.5 455.2 85.8 447.6 86.1 455.2 86.4 447.4 86.7 456.1 87 447.6 87.3 455.4 87.6 445.7 87.9 455.7 88.2 447.8 88.5 454.6 88.8 448.1 89.1 454 89.4 447 89.7 454.7 90 448.6 90.3 453.6 90.6 448.2 90.9 453 91.2 448.3 91.5 453.6 91.8 449.1 92.1 452.6 92.4 449.1 92.7 452.4 93 449.9 93.3 452.2 93.6 449.9 93.9 452.6 94.2 449.7 94.5 452.5 94.8 449.4 95.1 452.8 95.4 449.9 95.7 452.3 96 449.3 96.3 452.5 96.6 449.8 96.9 452.4 97.2 449.9 97.5 452.1 97.8 449.9 98.1 452.2 98.4 449.8 98.7 452.3 99 449.2 99.3 452.1 99.6 449.6 99.9 452.7 100.2 449.6 100.5 452.3 100.8 449.4 101.1 452.1 101.4 449.3 101.7 452.5 102 449.4 102.3 452.6 102.6 449.9 102.9 452.1 103.2 449.9 103.5 452.3 103.8 449.3 104.1 452.7 104.4 449.7 104.7 452.4 105 449.5 105.3 452.2 105.6 449.2 105.9 453 106.2 449 106.5 453.6 106.8 448.3 107.1 453.6 107.4 448.8 107.7 453.2 108 448.9 108.3 453 108.6 447.9 108.9 453.2 109.2 449 109.5 453.2 109.8 449 110.1 453.3 110.4 448.8 110.7 453.1 111 448.6 111.3 453.3 111.6 448.8 111.9 453.9 112.2 448.8 112.5 453.5 112.8 448 113.1 454.2 113.4 448.8 113.7 453 114 447.8 114.3 453.4 114.6 448.9 114.9 453 115.2 448.9 115.5 453.2 115.8 449 116.1 453 116.4 447.8 116.7 453.9 117 449 117.3 453.4 117.6 448.1 117.9 453.4 118.2 449 118.5 453.2 118.8 448.8 119.1 454.1 119.4 448.5 119.7 453.3 120 448.4 120.3 453 120.6 448.3 120.9 453.9 121.2 448.4 121.5 453.2 121.8 448.9 122.1 452.9 122.4 449 122.7 453 123 448.7 123.3 453.8 123.6 448.9 123.9 453.3 124.2 448.4 124.5 453.6 124.8 449.1 125.1 454.1 125.4 448.5 125.7 453.1 126 448.9 126.3 453.6 126.6 447.9 126.9 453.2 127.2 448.8 127.5 453.4 127.8 449 128.1 453.2 128.4 448 128.7 453.4 129 448.1 129.3 453.1 129.6 448.1 129.9 453.8 130.2 449 130.5 453.4 130.8 448.5 131.1 453.1 131.4 449.2 131.7 452.3 132 449.6 132.3 452.2 132.6 449.4 132.9 452.2 133.2 449.2 133.5 452.4 133.8 449.9 134.1 452.3 134.4 449.9 134.7 452.5 135 449.9 135.3 452.4 135.6 449.8 135.9 452.6 136.2 449.9 136.5 452.5 136.8 449.5 137.1 452.2 137.4 449.9 137.7 452.2 138 449.6 138.3 452.2 138.6 449.9 138.9 452.3 139.2 449.4 139.5 452.1 139.8 449.3 140.1 452.3 140.4 449.9 140.7 452.1 141 449.8 141.3 452.3 141.6 449.9 141.9 452.1 142.2 449.7 142.5 452.2 142.8 449.7 143.1 452.3 143.4 449.5 143.7 452.4 144 449.9 144.3 452.1 144.6 449.4 144.9 452.1 145.2 449.9 145.5 452.1 145.8 449.4 146.1 452.3 146.4 449.3 146.7 452.5 147 449.7 147.3 452.4 147.6 449.2 147.9 452.4 148.2 448.9 148.5 452.7 148.8 449.4 149.1 452.8 149.4 448.9 149.7 452.8 150 448.2 150.3 453.9 150.6 448.7 150.9 454 151.2 448.3 151.5 453.5 151.8 448.9 152.1 454.4 152.4 447.6 152.7 453.6 153 448.4 153.3 453.3 153.6 447.9 153.9 454.6 154.2 448.2 154.5 453.7 154.8 447.7 155.1 454.7 155.4 448.3 155.7 453.9 156 447.4 156.3 453.8 156.6 446.9 156.9 454.1 157.2 446.7 157.5 454.5 157.8 447.9 158.1 454 158.4 447.9 158.7 454.3 159 446.7 159.3 455.4 159.6 447 159.9 454.4 160.2 446.9 160.5 455.3 160.8 447.5 161.1 454.1 161.4 447.3 161.7 454.3 162 447.8 162.3 454.6 162.6 447.9 162.9 455.9 163.2 447.6 163.5 455.9 163.8 446.6 164.1 454.2 164.4 446.1 164.7 455.7 165 447.1 165.3 455.9 165.6 447.2 165.9 454.2 166.2 447.7 166.5 454.5 166.8 446.1 167.1 455.8 167.4 447.7 167.7 454.6 168 447.7 168.3 454.5 168.6 447.3 168.9 454.8 169.2 447.6 169.5 455.4 169.8 447.5 170.1 456.1 170.4 447.1 170.7 454.7 171 446.6 171.3 454.3 171.6 447.9 171.9 453.9 172.2 448 172.5 453.9 172.8 447.3 173.1 453.8 173.4 447.6 173.7 453.6 174 448.7 174.3 453.4 174.6 448.5 174.9 454.3 175.2 448.9 175.5 453 175.8 449.1 176.1 452.9 176.4 448.2 176.7 453.6 177 449.3 177.3 452.5 177.6 449.2 177.9 452.8 178.2 449.6 178.5 452.5 178.8 449.3 179.1 452.1 179.4 449.5 179.7 452.5 180 449.4 180.3 452.3 180.6 449.7 180.9 452.3 181.2 449.9 181.5 452.3 181.8 449.8 182.1 452.2 182.4 449.9 182.7 452.1 183 449.9 183.3 452.3 183.6 449.8 183.9 452.4 184.2 449.7 184.5 452.2 184.8 449.9 185.1 452.4 185.4 449.5 185.7 452.5 186 449.7 186.3 452.4 186.6 449.9 186.9 452.2" fill="none" stroke="#000" stroke-width="0.8" stroke-linejoin="round"/>
<path d="M42.3 470.9 42.8 470.9 43.3 470.8 43.8 470.8 44.3 470.6 44.8 470.5 45.3 470.3 45.8 470.1 46.3 469.9 46.8 469.7 47.3 469.5 47.8 469.2 48.3 468.9 48.8 468.6 49.4 468.4 49.9 468.1 50.4 467.8 50.9 467.5 51.4 467.3 51.9 467.1 52.4 466.9 52.9 466.7 53.4 466.5 53.9 466.4 54.4 466.2 54.9 466.2 55.4 466.1 55.9 466.1 56.4 466.1 56.9 466.2 57.4 466.3 58.0 466.5 58.5 466.7 59.0 467.0 59.5 467.3 60.0 467.7 60.5 468.1 61.0 468.5 61.5 469.0 62.1 469.5 62.6 470.0 63.1 470.5 63.6 471.0 64.1 471.5 64.6 472.0 65.1 472.5 65.6 473.0 66.2 473.5 66.7 474.0 67.2 474.4 67.7 474.8 68.2 475.2 68.7 475.5 69.2 475.8 69.7 476.0 70.3 476.2 70.8 476.3 71.3 476.4 71.8 476.4 72.3 476.4 72.8 476.3 73.3 476.2 73.9 476.0 74.4 475.7 74.9 475.5 75.4 475.1 75.9 474.8 76.4 474.3 76.9 473.9 77.4 473.4 78.0 472.9 78.5 472.4 79.0 471.9 79.5 471.4 80.0 470.8 80.5 470.3 81.0 469.8 81.5 469.3 82.1 468.8 82.6 468.3 83.1 467.9 83.6 467.4 84.1 467.1 84.6 466.7 85.1 466.5 85.6 466.2 86.2 466.0 86.7 465.9 87.2 465.8 87.7 465.8 88.2 465.8 88.7 466.0 89.2 466.2 89.7 466.5 90.2 466.8 90.7 467.2 91.3 467.7 91.8 468.3 92.3 468.8 92.8 469.5 93.3 470.1 93.8 470.8 94.3 471.4 94.8 472.1 95.3 472.7 95.8 473.4 96.3 473.9 96.8 474.5 97.4 475.0 97.9 475.4 98.4 475.7 98.9 476.0 99.4 476.2 99.9 476.4 100.4 476.4 100.9 476.4 101.4 476.3 101.9 476.2 102.4 476.0 102.9 475.8 103.4 475.5 103.9 475.2 104.4 474.9 104.9 474.6 105.5 474.3 106.0 474.0 106.5 473.7 107.0 473.4 107.5 473.1 108.0 472.9 108.5 472.7 109.0 472.6 109.5 472.5 110.0 472.5 110.5 472.4 111.0 472.2 111.6 471.9 112.1 471.4 112.6 470.9 113.2 470.4 113.7 469.8 114.2 469.3 114.7 468.8 115.2 468.5 115.8 468.3 116.3 468.2 116.8 468.2 117.3 468.2 117.8 468.2 118.3 468.1 118.9 468.1 119.4 468.0 119.9 468.0 120.4 467.9 120.9 467.8 121.4 467.8 121.9 467.7 122.4 467.6 123.0 467.5 123.5 467.4 124.0 467.3 124.5 467.3 125.0 467.2 125.5 467.1 126.0 467.1 126.5 467.0 127.1 467.0 127.6 466.9 128.1 466.9 128.6 466.9 129.1 466.9 129.6 466.9 130.1 467.1 130.6 467.3 131.1 467.7 131.6 468.1 132.1 468.5 132.6 469.1 133.1 469.7 133.6 470.3 134.1 471.0 134.6 471.6 135.2 472.3 135.7 473.0 136.2 473.6 136.7 474.2 137.2 474.8 137.7 475.2 138.2 475.6 138.7 476.0 139.2 476.2 139.7 476.4 140.2 476.4 140.7 476.4 141.3 476.3 141.8 476.2 142.3 476.1 142.9 475.9 143.4 475.8 143.9 475.7 144.5 475.6 145.0 475.6 145.5 475.6 146.0 475.5 146.5 475.4 147.0 475.2 147.5 474.9 148.0 474.6 148.6 474.3 149.1 474.0 149.6 473.6 150.1 473.1 150.6 472.7 151.1 472.3 151.6 471.8 152.1 471.4 152.6 471.0 153.1 470.5 153.6 470.1 154.1 469.8 154.7 469.5 155.2 469.2 155.7 468.9 156.2 468.7 156.7 468.6 157.2 468.5 157.7 468.5 158.2 468.5 158.7 468.5 159.2 468.4 159.7 468.4 160.2 468.3 160.7 468.2 161.2 468.1 161.7 468.0 162.2 467.9 162.7 467.8 163.2 467.7 163.8 467.6 164.3 467.5 164.8 467.4 165.3 467.3 165.8 467.2 166.3 467.1 166.8 467.0 167.3 467.0 167.8 466.9 168.3 466.9 168.8 466.9 169.3 467.0 169.8 467.1 170.3 467.4 170.8 467.7 171.3 468.2 171.8 468.7 172.3 469.3 172.8 469.9 173.3 470.5 173.9 471.2 174.4 471.8 174.9 472.4 175.4 473.0 175.9 473.5 176.4 474.0 176.9 474.3 177.4 474.6 177.9 474.7 178.4 474.8 178.9 474.8 179.4 474.9 179.9 475.0 180.4 475.2 181.0 475.3 181.5 475.5 182.0 475.6 182.5 475.7 183.0 475.7 183.5 475.7 184.0 475.7 184.5 475.7 185.1 475.7 185.6 475.6 186.1 475.6 186.6 475.6 187.1 475.6" fill="none" stroke="#444" stroke-width="1.2" stroke-linejoin="round"/>
<path d="M42.3 488.6 42.6 487 42.9 488.6 43.2 487.3 43.5 488.4 43.8 487.2 44.1 488.4 44.4 487.3 44.7 488.3 45 487.2 45.3 488.3 45.6 487.2 45.9 488.3 46.2 487.3 46.5 488.5 46.8 487.2 47.1 488.4 47.4 487.1 47.7 488.4 48 487.3 48.3 488.5 48.6 487.2 48.9 488.5 49.2 487.1 49.5 488.6 49.8 487.2 50.1 488.5 50.4 487.2 50.7 488.4 51 487.1 51.3 488.3 51.6 487.3 51.9 488.4 52.2 487.1 52.5 488.4 52.8 487.2 53.1 488.5 53.4 487.3 53.7 488.3 54 486.5 54.3 490.5 54.6 485.8 54.9 489.7 55.2 485.9 55.5 489.6 55.8 485.8 56.1 490.2 56.4 485 56.7 489.9 57 485.7 57.3 489.8 57.6 485.8 57.9 490.5 58.2 485.5 58.5 489.8 58.8 486 59.1 490.5 59.4 485.3 59.7 490.6 60 485.9 60.3 490.1 60.6 484.9 60.9 490.1 61.2 484.8 61.5 489.6 61.8 484.8 62.1 489.6 62.4 485.7 62.7 489.5 63 485.2 63.3 490.1 63.6 485.1 63.9 490.2 64.2 485.2 64.5 489.7 64.8 485.3 65.1 489.9 65.4 486.2 65.7 490.1 66 486.3 66.3 488.3 66.6 487.3 66.9 488.4 67.2 487.3 67.5 488.6 67.8 487 68.1 488.3 68.4 487.3 68.7 488.4 69 487.3 69.3 488.4 69.6 487.1 69.9 488.3 70.2 487.2 70.5 488.6 70.8 487.2 71.1 488.4 71.4 487 71.7 488.5 72 487 72.3 488.5 72.6 487.2 72.9 488.5 73.2 487 73.5 488.5 73.8 487.3 74.1 488.3 74.4 487.2 74.7 488.5 75 487.2 75.3 488.4 75.6 487 75.9 488.3 76.2 487.1 76.5 488.4 76.8 487.2 77.1 488.6 77.4 487.3 77.7 488.6 78 487.3 78.3 488.4 78.6 487.2 78.9 488.3 79.2 487.2 79.5 488.4 79.8 487.2 80.1 488.5 80.4 487.3 80.7 488.4 81 487.1 81.3 488.3 81.6 487 81.9 488.3 82.2 486.9 82.5 489.4 82.8 485 83.1 490.7 83.4 485.3 83.7 491.2 84 484.8 84.3 491.2 84.6 484.7 84.9 490.9 85.2 484.8 85.5 490.4 85.8 484 86.1 490.2 86.4 484 86.7 491.5 87 484.9 87.3 491.3 87.6 484.5 87.9 490.9 88.2 485.2 88.5 490.4 88.8 485.1 89.1 490.4 89.4 483.9 89.7 490.4 90 485.1 90.1 482.8 90.3 492.8 90.5 484.8 90.6 490.3 90.6 484.5 90.8 480.3 90.9 495.4 91.1 483.3 91.2 491.6 91.2 485.2 91.4 482.8 91.6 493.3 91.8 484.8 91.9 490.6 91.8 485.7 92.1 489.6 92.4 485.9 92.7 489.6 93 485.3 93.3 489.7 93.6 486.3 93.9 489.5 94.2 486.5 94.5 489.3 94.8 487.2 95.1 488.6 95.4 487.3 95.7 488.6 96 487.3 96.3 488.6 96.6 487.1 96.9 488.3 97.2 487.1 97.5 488.3 97.8 487.2 98.1 488.3 98.4 487 98.7 488.3 99 487.1 99.3 488.4 99.6 487.1 99.9 488.3 100.2 487.3 100.5 488.6 100.8 487.1 101.1 488.3 101.4 487 101.7 488.6 102 487.3 102.3 488.3 102.6 487.1 102.9 488.3 103.2 487.1 103.5 488.4 103.8 487.1 104.1 488.4 104.4 487.1 104.7 488.6 105 487.1 105.3 488.4 105.6 487.2 105.9 488.3 106.2 487.3 106.5 488.6 106.8 487.3 107.1 488.4 107.4 487.3 107.7 488.5 108 487.2 108.3 488.6 108.6 487.2 108.9 488.4 109.2 487.1 109.5 488.5 109.8 487 110.1 488.3 110.4 487 110.7 488.6 111 487 111.3 488.3 111.6 487.2 111.9 488.5 112.2 487 112.5 488.3 112.8 487.2 113.1 488.5 113.4 487.1 113.7 488.4 114 487.3 114.3 488.4 114.6 487.3 114.9 488.3 115.2 487.2 115.5 488.6 115.8 487.2 116.1 488.4 116.4 487.3 116.7 488.3 117 487.1 117.3 488.4 117.6 487.3 117.9 488.6 118.2 487.2 118.5 488.6 118.8 487.2 119.1 488.5 119.4 487.2 119.7 488.5 120 487 120.3 488.6 120.6 487.1 120.9 488.4 121.2 487.3 121.5 488.6 121.8 487.2 122.1 488.4 122.4 487.3 122.7 488.3 123 487.2 123.3 488.6 123.6 487.1 123.9 488.5 124.2 487.1 124.5 488.3 124.8 487.3 125.1 488.5 125.4 487.3 125.7 488.4 126 487.2 126.3 488.4 126.6 487.3 126.9 488.3 127.2 487.2 127.5 488.3 127.8 487.1 128.1 488.3 128.4 487.1 128.7 488.5 129 487.1 129.3 488.4 129.6 487.3 129.9 488.4 130.2 487 130.5 488.3 130.8 487.3 131.1 488.4 131.4 487.2 131.7 488.5 132 487.3 132.3 488.6 132.6 487.3 132.9 488.5 133.2 487.2 133.5 488.6 133.8 487.3 134.1 488.5 134.4 487 134.7 488.5 135 487.3 135.3 488.6 135.6 487 135.9 488.3 136.2 487 136.5 488.3 136.8 487.3 137.1 488.5 137.4 487.1 137.7 488.6 138 487.1 138.3 488.4 138.6 487.3 138.9 488.4 139.2 487 139.5 488.5 139.8 487 140.1 488.3 140.4 487.1 140.7 488.5 141 487.3 141.3 488.6 141.6 487.3 141.9 488.3 142.2 487.3 142.5 488.5 142.8 487.3 143.1 488.6 143.4 487.3 143.7 488.5 144 487.1 144.3 488.4 144.6 487.2 144.9 488.5 145.2 487.1 145.5 488.3 145.8 487.1 146.1 488.4 146.4 487.2 146.7 488.4 147 487 147.3 488.4 147.6 487 147.9 488.3 148.2 487.2 148.5 488.5 148.8 487.1 149.1 488.6 149.4 487.3 149.7 488.5 150 487.1 150.3 488.3 150.6 487.3 150.9 488.4 151.2 487 151.5 488.5 151.8 487.2 152.1 488.4 152.4 487.1 152.7 488.4 153 487.2 153.3 488.4 153.6 487 153.9 488.5 154.2 487 154.5 488.3 154.8 487.1 155.1 488.6 155.4 487.1 155.7 488.6 156 487 156.3 488.3 156.6 487.2 156.9 488.4 157.2 487.3 157.5 488.4 157.8 486.5 158.1 490 158.4 485.8 158.7 489.9 159 485.5 159.3 490.9 159.6 485.4 159.9 489.8 160.2 485.3 160.5 489.9 160.8 485.9 161.1 490.3 161.4 484.5 161.7 490.7 162 485 162.3 489.8 162.6 485.3 162.9 490.4 163.2 485 163.5 490.1 163.8 485.9 164.1 490.9 164.4 485.7 164.7 490.5 165 485.5 165.3 490.6 165.6 485.7 165.9 489.7 166.2 485.6 166.5 490 166.8 485.2 167.1 489.8 167.4 485.5 167.7 489.6 168 485.6 168.3 489.3 168.6 485.5 168.9 490.1 169.2 486.5 169.5 489.8 169.8 486 170.1 489.4 170.4 486.7 170.7 489.3 171 486.4 171.3 489 171.6 486.3 171.9 489.1 172.2 486.7 172.5 489.1 172.8 487 173.1 488.7 173.4 486.8 173.7 488.8 174 486.5 174.3 488.9 174.6 486.7 174.9 488.9 175.2 486.5 175.5 488.7 175.8 486.7 176.1 488.8 176.4 486.9 176.7 488.7 177 487 177.3 488.6 177.6 486.9 177.9 488.7 178.2 487 178.5 488.8 178.8 486.9 179.1 489.1 179.4 486.6 179.7 488.9 180 486.6 180.3 488.7 180.6 487 180.9 488.9 181.2 487 181.5 489.1 181.8 486.9 182.1 489.1 182.4 486.9 182.7 488.6 183 486.7 183.3 488.9 183.6 486.9 183.9 489.1 184.2 486.5 184.5 488.9 184.8 486.5 185.1 489.1 185.4 487 185.7 488.9 186 486.7 186.3 488.9 186.6 486.9 186.9 488.8" fill="none" stroke="#000" stroke-width="0.8" stroke-linejoin="round"/>
<path d="M42.3 510.4 42.6 508.6 42.9 510.1 43.2 508.5 43.5 510.1 43.8 508.7 44.1 510.1 44.4 508.6 44.7 510.1 45 508.6 45.3 510.4 45.6 508.6 45.9 510.2 46.2 508.5 46.5 510.5 46.8 508.9 47.1 510.3 47.4 508.5 47.7 510.4 48 508.8 48.3 510.2 48.6 508.5 48.9 510.1 49.2 508.6 49.5 510.4 49.8 508.9 50.1 510.2 50.4 508.8 50.7 510.3 51 508.8 51.3 510.5 51.6 508.5 51.9 510.2 52.2 508.5 52.5 510.1 52.8 508.9 53.1 510.3 53.4 508.6 53.7 510.4 54 508.5 54.3 510.5 54.6 508.8 54.9 511.1 55 506.5 55.1 512.5 55.2 507.7 55.4 511 55.5 510.3 55.8 508.7 56.1 510.1 56.4 508.9 56.7 510.2 57 508.7 57.3 510.5 57.6 508.9 57.9 510.3 58.2 508.5 58.5 510.4 58.8 508.7 59.1 510.8 59.4 507.4 59.7 511.2 60 507.4 60.3 511.6 60.6 507.7 60.9 511.8 61.2 507.7 61.5 511.4 61.8 507.1 62.1 511.1 62.4 507.9 62.7 511.5 63 507.7 63.3 511.9 63.6 507.9 63.9 511.2 64.2 508 64.5 511.3 64.8 507.9 65.1 511.2 65.4 507.5 65.7 510.8 66 507.4 66.3 511.2 66.6 507.7 66.9 510.9 67.2 508.1 67.5 510.7 67.8 508.3 68.1 510.1 68.4 508.8 68.7 510.2 69 508.8 69.3 510.5 69.6 508.6 69.9 510.3 70.2 508.9 70.5 510.2 70.8 508.7 71.1 510.4 71.4 508.8 71.7 510.3 72 508.5 72.3 510.2 72.6 508.8 72.9 510.4 73.2 508.8 73.5 510.4 73.8 508.8 74.1 510.1 74.4 508.8 74.7 510.1 75 508.6 75.3 510.4 75.6 508.7 75.9 510.5 76.2 508.9 76.5 510.2 76.8 508.9 77.1 510.1 77.4 508.6 77.7 510.1 78 508.5 78.3 510.3 78.6 508.6 78.9 510.1 79.2 508.5 79.5 510.4 79.8 508.9 80.1 510.1 80.4 508.9 80.7 510.3 81 508.9 81.3 510.4 81.6 508.7 81.9 510.4 82.2 508.8 82.5 510.3 82.8 508.8 83.1 510.3 83.4 508.8 83.7 510.5 84 508.6 84.3 510.4 84.6 508.8 84.9 510.1 85.2 508.9 85.5 510.1 85.8 508.5 86.1 510.2 86.4 508.5 86.7 510.2 87 508.7 87.3 510.2 87.6 508.8 87.9 510.4 88.2 508.7 88.5 510.5 88.8 508.8 89.1 510.2 89.4 508.9 89.7 510.1 90 508.5 90.3 510.3 90.6 508.8 90.8 505.8 90.9 515.4 91.1 507.3 91.2 512.5 91.2 508.6 91.5 510.4 91.8 508.9 92.1 510.6 92.4 508 92.7 511.8 93 507.3 93.3 511.1 93.6 507.9 93.9 511.1 94.2 507.5 94.5 511.6 94.8 507.9 95.1 511.1 95.4 507.9 95.7 511.9 96 507.7 96.3 511.9 96.6 508 96.9 511.4 97.2 507.7 97.5 511.7 97.8 508 98.1 510.9 98.4 507.6 98.7 511.6 99 508 99.3 510.8 99.6 508.3 99.9 510.8 100.2 507.7 100.5 510.7 100.8 508.2 101.1 510.8 101.4 508.4 101.7 510.5 102 508.3 102.3 511 102.6 508.1 102.9 510.4 103.2 508.3 103.5 510.7 103.8 508.5 104.1 510.2 104.4 508.9 104.7 510.4 105 508.6 105.3 510.1 105.6 508.9 105.9 510.1 106.2 508.6 106.5 510.5 106.8 508.7 107.1 510.3 107.4 508.6 107.7 510.1 108 508.7 108.3 510.2 108.6 508.5 108.9 510.1 109.2 508.6 109.5 510.1 109.8 508.7 110.1 510.5 110.4 508.9 110.7 510.2 111 508.9 111.3 510.3 111.6 508.8 111.9 510.5 112.2 508.8 112.5 510.5 112.8 508.6 113.1 510.4 113.4 508.8 113.7 510.1 114 508.6 114.3 510.2 114.6 508.5 114.9 510.3 115.2 508.4 115.5 510.8 115.8 507.9 116.1 510.5 116.4 508.4 116.7 510.8 117 507.6 117.3 510.8 117.6 508 117.9 511 118.2 508.2 118.5 511.1 118.8 508.2 119.1 510.9 119.4 507.9 119.7 511 120 508.3 120.3 510.9 120.6 508.2 120.9 511 121.2 508.5 121.5 510.5 121.8 508.3 122.1 510.6 122.4 508.5 122.7 510.5 123 508.5 123.3 510.6 123.6 508.4 123.9 510.5 124.2 508.4 124.5 510.3 124.8 508.9 125.1 510.2 125.4 508.5 125.7 510.4 126 508.7 126.3 510.1 126.6 508.9 126.9 510.3 127.2 508.8 127.5 510.1 127.8 508.5 128.1 510.2 128.4 508.5 128.7 510.3 129 508.5 129.3 510.4 129.6 508.9 129.9 510.2 130.2 508.5 130.5 510.2 130.8 508.7 131.1 510.4 131.4 508.7 131.7 510.4 132 508.7 132.3 510.2 132.6 508.6 132.9 510.1 133.2 508.6 133.5 510.4 133.8 508.9 134.1 510.1 134.4 508.5 134.7 510.1 135 508.7 135.3 510.2 135.6 508.9 135.9 510.2 136.2 508.9 136.5 510.4 136.8 508.6 137.1 510.4 137.4 508.9 137.7 510.2 138 508.9 138.3 510.4 138.6 508.5 138.9 510.5 139.2 508.6 139.5 510.3 139.8 508.7 140.1 510.1 140.4 508.9 140.7 510.3 141 508.5 141.3 510.5 141.6 508.8 141.9 510.3 142.2 508.5 142.5 510.2 142.8 508.6 143.1 510.3 143.4 508.8 143.7 510.2 144 508.9 144.3 510.1 144.6 508.8 144.9 510.5 145.2 508.6 145.5 510.1 145.8 508.6 146.1 510.1 146.4 508.7 146.7 510.5 147 508.5 147.3 510.5 147.6 508.5 147.9 510.3 148.2 508.9 148.5 510.2 148.8 508.7 149.1 510.3 149.4 508.5 149.7 510.1 150 508.5 150.3 510.3 150.6 508.7 150.9 510.1 151.2 508.8 151.5 510.3 151.8 508.6 152.1 510.3 152.4 508.7 152.7 510.4 153 508.8 153.3 510.2 153.6 508.5 153.9 510.3 154.2 508.7 154.5 510.5 154.8 508.5 155.1 510.4 155.4 508.5 155.7 510.2 156 508.5 156.3 510.3 156.6 508.8 156.9 510.2 157.2 508.9 157.5 510.5 157.8 508.5 158.1 510.2 158.4 508.5 158.7 510.1 159 508.8 159.3 510.5 159.6 508.7 159.9 510.1 160.2 508.7 160.5 510.4 160.8 507.9 161.1 511.1 161.4 508.2 161.7 510.4 162 508.9 162.3 510.5 162.6 508.6 162.9 510.5 163.2 508.8 163.5 510.2 163.8 508.6 164.1 510.5 164.4 508.7 164.7 510.2 165 508.8 165.3 510.2 165.6 508.8 165.9 510.5 166.2 508.7 166.5 510.1 166.8 508.5 167.1 510.5 167.4 508.8 167.7 510.1 168 508.7 168.3 510.2 168.6 508.9 168.9 510.5 169.2 508.8 169.5 510.1 169.8 508.8 170.1 510.5 170.4 508.8 170.7 510.2 171 508.8 171.3 510.1 171.6 508.9 171.9 510.1 172.2 508.8 172.5 510.2 172.8 508.6 173.1 510.4 173.4 508.5 173.7 510.1 174 508.7 174.3 510.1 174.6 508.8 174.9 510.2 175.2 508.8 175.5 510.4 175.8 508.8 176.1 510.1 176.4 508.7 176.7 510.2 177 508.5 177.3 510.1 177.6 508.9 177.9 510.1 178.2 508.8 178.5 510.4 178.8 508.9 179.1 510.3 179.4 508.5 179.7 510.2 180 508.6 180.3 510.4 180.6 508.5 180.9 510.5 181.2 508.7 181.5 510.2 181.8 508.8 182.1 510.1 182.4 508.9 182.7 510.3 183 508.8 183.3 510.1 183.6 508.8 183.9 510.1 184.2 508.7 184.5 510.5 184.8 508.8 185.1 510.1 185.4 508.9 185.7 510.2 186 508.5 186.3 510.5 186.6 508.7 186.9 510.2" fill="none" stroke="#000" stroke-width="0.8" stroke-linejoin="round"/>
<path d="M42.3 526.5 C43.9 526.4 49.9 526.2 51.9 525.7 C53.9 525.2 53.7 524.4 54.5 523.5 C55.3 522.6 55.8 520.9 56.7 520.1 C57.6 519.4 58.8 518.9 59.9 519.0 C61.0 519.1 62.1 519.7 63.1 520.6 C64.1 521.5 65.1 523.2 66.0 524.5 C66.9 525.8 66.3 527.5 68.6 528.1 C70.9 528.7 77.4 528.6 79.7 528.1 C82.0 527.6 81.5 526.1 82.3 525.0 C83.1 523.9 83.6 522.5 84.5 521.7 C85.4 520.9 86.0 520.3 87.7 520.1 C89.4 519.9 93.0 520.1 94.8 520.6 C96.6 521.1 97.3 522.2 98.5 523.0 C99.7 523.8 100.1 524.8 102.0 525.4 C103.9 526.0 107.3 526.4 110.0 526.5 C112.7 526.6 115.3 526.4 118.0 526.2 C120.7 526.0 123.5 525.4 125.9 525.4 C128.3 525.4 130.6 526.6 132.3 526.5 C134.0 526.4 134.6 524.9 136.2 524.9 C137.8 524.9 138.5 526.4 141.8 526.5 C145.1 526.6 153.3 526.3 156.1 525.7 C158.9 525.1 157.9 523.9 158.7 523.0 C159.5 522.1 160.1 520.8 160.9 520.1 C161.7 519.4 162.0 519.1 163.3 519.0 C164.6 518.9 167.2 519.0 168.8 519.7 C170.4 520.4 171.5 521.9 172.8 523.0 C174.1 524.1 174.6 525.8 176.8 526.5 C179.1 527.2 184.7 526.9 186.3 527.0" fill="none" stroke="#8a8a8a" stroke-width="1.0"/>
<line x1="44" y1="535.6" x2="59.1" y2="535.6" stroke="#333" stroke-width="1"/>
<text x="46.2" y="542.4" font-size="7.2" fill="#333" font-weight="bold" letter-spacing="0.7">2s</text>
<path d="M197.9 434.8H200.5V476.5H197.9M200.5 455.2h2" fill="none" stroke="#777" stroke-width="1"/>
<text x="201.8" y="450.3" font-size="8.75" fill="#444">left hip</text>
<text x="206.6" y="460.8" font-size="8.75" fill="#444">joint</text>
<text x="206.3" y="470.3" font-size="8.75" fill="#444">mov.</text>
<text x="352.6" y="311.9" font-size="9.1" font-style="italic" fill="#333">preterm</text>
<text x="261.3" y="330.2" font-size="8.75" fill="#333">0.5–3 mo</text>
<text x="325.6" y="330.2" font-size="8.75" fill="#333">3–6 mo</text>
<text x="380.5" y="330.2" font-size="8.75" fill="#333">6–9 mo</text>
<text x="436.6" y="330.2" font-size="8.75" fill="#333">9–12 mo</text>
<circle cx="280" cy="364.3" r="21.9" fill="#fff" stroke="#444" stroke-width="1.0"/>
<path d="M280 364.3L280 342.4A21.9 21.9 0 0 1 301.90 364.30Z" fill="#ababab" stroke="#444" stroke-width="1.0" stroke-linejoin="round"/>
<circle cx="339.1" cy="363.9" r="22.1" fill="#fff" stroke="#444" stroke-width="1.0"/>
<path d="M339.1 363.9L339.1 341.8A22.1 22.1 0 0 1 357.63 351.86Z" fill="#ababab" stroke="#444" stroke-width="1.0" stroke-linejoin="round"/>
<circle cx="396.2" cy="363.5" r="22.9" fill="#fff" stroke="#7a7a7a" stroke-width="1.15"/>
<circle cx="451.2" cy="362.8" r="22.9" fill="#fff" stroke="#7a7a7a" stroke-width="1.15"/>
<text x="295.2" y="347.2" font-size="7.4" fill="#2a2a2a" stroke="#2a2a2a" stroke-width="0.2">n=4</text>
<text x="260.8" y="394.3" font-size="7.4" fill="#2a2a2a" stroke="#2a2a2a" stroke-width="0.2">n=12</text>
<text x="352.1" y="342.7" font-size="7.4" fill="#2a2a2a" stroke="#2a2a2a" stroke-width="0.2">n=3</text>
<text x="333" y="394.3" font-size="7.4" fill="#2a2a2a" stroke="#2a2a2a" stroke-width="0.2">n=16</text>
<text x="390.5" y="393.7" font-size="7.4" fill="#2a2a2a" stroke="#2a2a2a" stroke-width="0.2">n=12</text>
<text x="445.5" y="392.4" font-size="7.4" fill="#2a2a2a" stroke="#2a2a2a" stroke-width="0.2">n=4</text>
<text x="350.1" y="411.4" font-size="9.1" font-style="italic" fill="#333">full-term</text>
<circle cx="281" cy="446.6" r="23" fill="#fff" stroke="#444" stroke-width="1.0"/>
<path d="M281 446.6L281 423.6A23 23 0 0 1 303.92 448.48Z" fill="#ababab" stroke="#444" stroke-width="1.0" stroke-linejoin="round"/>
<circle cx="339.8" cy="444.8" r="22.2" fill="#fff" stroke="#444" stroke-width="1.0"/>
<path d="M339.8 444.8L339.8 422.6A22.2 22.2 0 0 1 361.10 451.07Z" fill="#ababab" stroke="#444" stroke-width="1.0" stroke-linejoin="round"/>
<circle cx="398.4" cy="445.5" r="23" fill="#fff" stroke="#7a7a7a" stroke-width="1.15"/>
<circle cx="454.3" cy="445.5" r="23" fill="#fff" stroke="#7a7a7a" stroke-width="1.15"/>
<text x="292.9" y="425.5" font-size="7.4" fill="#2a2a2a" stroke="#2a2a2a" stroke-width="0.2">n=5</text>
<text x="266" y="476.4" font-size="7.4" fill="#2a2a2a" stroke="#2a2a2a" stroke-width="0.2">n=14</text>
<text x="353.8" y="426.2" font-size="7.4" fill="#2a2a2a" stroke="#2a2a2a" stroke-width="0.2">n=8</text>
<text x="328.3" y="476" font-size="7.4" fill="#2a2a2a" stroke="#2a2a2a" stroke-width="0.2">n=19</text>
<text x="390.5" y="476.4" font-size="7.4" fill="#2a2a2a" stroke="#2a2a2a" stroke-width="0.2">n=13</text>
<text x="445.4" y="476" font-size="7.4" fill="#2a2a2a" stroke="#2a2a2a" stroke-width="0.2">n=11</text>
<rect x="242.9" y="492.0" width="6.4" height="6.4" fill="#ababab" stroke="#555" stroke-width="0.8"/>
<rect x="242.9" y="504.0" width="6.4" height="6.4" fill="#fff" stroke="#555" stroke-width="0.8"/>
<text x="253.9" y="496.9" font-size="7.31" font-style="italic" fill="#222" stroke="#222" stroke-width="0.2">rhythmic activity/movements in the contralateral limb (hip joint)</text>
<text x="253.9" y="508.5" font-size="7.31" font-style="italic" fill="#222" stroke="#222" stroke-width="0.2">absence of (or single/irregular) activity/movements in the contralateral limb</text>
<text x="325.7" y="526.6" font-size="8.6" fill="#333">decrease with age</text>
<defs><linearGradient id="ag" x1="0" y1="0" x2="0" y2="1"><stop offset="0" stop-color="#fff"/><stop offset="0.5" stop-color="#f4f4f4"/><stop offset="1" stop-color="#e6e6e6"/></linearGradient></defs>
<path d="M278.3 531.3H432.5V529L438.8 534.4L432.5 540V537.5H278.3L281.6 534.4Z" fill="url(#ag)" stroke="#777" stroke-width="1"/>
</svg>
</body></html>
